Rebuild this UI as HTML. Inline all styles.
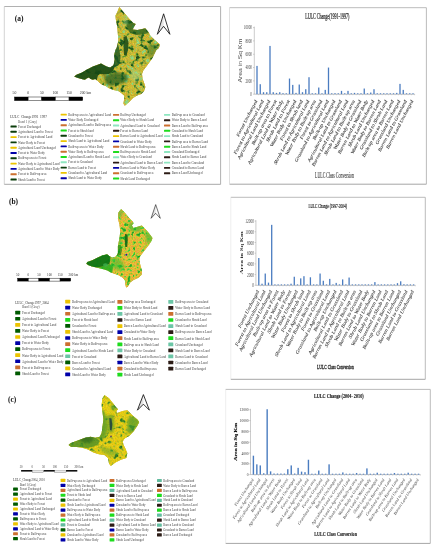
<!DOCTYPE html><html><head><meta charset="utf-8"><title>LULC Change 1991-2010</title><style>html,body{margin:0;padding:0;background:#fff}svg{display:block}</style></head><body>
<svg width="436" height="550" viewBox="0 0 436 550" font-family="'Liberation Serif', serif">
<rect width="436" height="550" fill="#fff"/>
<defs>
<filter id="texa" x="0" y="0" width="100%" height="100%" color-interpolation-filters="sRGB"><feTurbulence type="fractalNoise" baseFrequency="0.2" numOctaves="2" seed="3" result="t1"/><feColorMatrix in="t1" type="matrix" values="2.3 0 0 0 -0.6699999999999999 2.3 0 0 0 -0.6699999999999999 2.3 0 0 0 -0.6699999999999999 0 0 0 0 1" result="g1"/><feComponentTransfer in="g1" result="z"><feFuncR type="table" tableValues="0.137 0.314 0.549 0.737 0.808 0.824 0.761 0.647 0.569"/><feFuncG type="table" tableValues="0.353 0.529 0.647 0.714 0.725 0.714 0.729 0.776 0.831"/><feFuncB type="table" tableValues="0.118 0.176 0.216 0.216 0.196 0.196 0.235 0.353 0.490"/></feComponentTransfer><feTurbulence type="fractalNoise" baseFrequency="0.9" numOctaves="2" seed="14" result="t2"/><feColorMatrix in="t2" type="matrix" values="1 0 0 0 0 0 1 0 0 0 0 0 1 0 0 0 0 0 0 1" result="t2o"/><feComposite in="z" in2="t2o" operator="arithmetic" k1="0" k2="1" k3="0.3" k4="-0.15"/></filter>
<filter id="texb" x="0" y="0" width="100%" height="100%" color-interpolation-filters="sRGB"><feTurbulence type="fractalNoise" baseFrequency="0.22" numOctaves="2" seed="5" result="t1"/><feColorMatrix in="t1" type="matrix" values="2.0 0 0 0 -0.5 2.0 0 0 0 -0.5 2.0 0 0 0 -0.5 0 0 0 0 1" result="g1"/><feComponentTransfer in="g1" result="z"><feFuncR type="table" tableValues="0.157 0.275 0.627 0.882 0.925 0.910 0.871 0.627 0.275"/><feFuncG type="table" tableValues="0.647 0.745 0.804 0.753 0.714 0.675 0.745 0.843 0.784"/><feFuncB type="table" tableValues="0.157 0.196 0.216 0.188 0.216 0.235 0.196 0.235 0.235"/></feComponentTransfer><feTurbulence type="fractalNoise" baseFrequency="0.9" numOctaves="2" seed="16" result="t2"/><feColorMatrix in="t2" type="matrix" values="1 0 0 0 0 0 1 0 0 0 0 0 1 0 0 0 0 0 0 1" result="t2o"/><feComposite in="z" in2="t2o" operator="arithmetic" k1="0" k2="1" k3="0.3" k4="-0.15"/></filter>
<filter id="texc" x="0" y="0" width="100%" height="100%" color-interpolation-filters="sRGB"><feTurbulence type="fractalNoise" baseFrequency="0.2" numOctaves="2" seed="7" result="t1"/><feColorMatrix in="t1" type="matrix" values="2.0 0 0 0 -0.5 2.0 0 0 0 -0.5 2.0 0 0 0 -0.5 0 0 0 0 1" result="g1"/><feComponentTransfer in="g1" result="z"><feFuncR type="table" tableValues="0.196 0.353 0.667 0.863 0.894 0.902 0.882 0.804 0.627"/><feFuncG type="table" tableValues="0.471 0.608 0.725 0.784 0.800 0.804 0.792 0.765 0.706"/><feFuncB type="table" tableValues="0.137 0.157 0.137 0.086 0.078 0.086 0.098 0.118 0.157"/></feComponentTransfer><feTurbulence type="fractalNoise" baseFrequency="0.9" numOctaves="2" seed="18" result="t2"/><feColorMatrix in="t2" type="matrix" values="1 0 0 0 0 0 1 0 0 0 0 0 1 0 0 0 0 0 0 1" result="t2o"/><feComposite in="z" in2="t2o" operator="arithmetic" k1="0" k2="1" k3="0.22" k4="-0.11"/></filter>
<filter id="blur1" x="-20%" y="-20%" width="140%" height="140%"><feGaussianBlur stdDeviation="1.1"/></filter><filter id="blur0" x="-20%" y="-20%" width="140%" height="140%"><feGaussianBlur stdDeviation="0.5"/></filter>
</defs>
<line x1="4.3" y1="6.5" x2="220.6" y2="6.5" stroke="#a8a8a8" stroke-width="0.9"/>
<line x1="4.3" y1="6.5" x2="4.3" y2="184.4" stroke="#c8c8c8" stroke-width="0.8"/>
<line x1="220.6" y1="6.5" x2="220.6" y2="184.4" stroke="#a8a8a8" stroke-width="0.9"/>
<line x1="4.3" y1="184.3" x2="220.6" y2="184.3" stroke="#a8a8a8" stroke-width="1.0"/>
<text x="14.70" y="21.20" font-size="7.4" fill="#111" textLength="8.74" lengthAdjust="spacingAndGlyphs" font-weight="bold">(a)</text>
<clipPath id="clipa"><polygon points="119.3,7.1 123.1,11.6 126.7,15.7 129.7,19.3 133.3,22.9 135.7,24.1 133.9,27.1 132.7,29.5 137.4,30.1 142.2,28.9 145.2,28.3 148.2,31.8 150.6,36 154.2,39.6 157.7,42.6 159.9,44.4 158.9,48 156.4,50 152.3,58.3 147.5,65.1 143.3,70.6 142,74 142.6,78.9 144.7,84.4 145.4,87.1 144,91.3 141.3,94 137.1,95.4 133,98.1 128.9,102.3 124.8,105.7 123.4,103.6 124.1,99.5 124.1,95.4 120.6,92.6 118.2,91.1 113.6,90 109,88.3 105.6,86 102.1,84.8 99.8,83.1 97.5,80.8 95.2,79.1 92.9,79.7 90.6,79.1 88.9,77.4 86.6,78.5 84.9,79.7 81.5,79.1 78,77.9 74.6,76.8 74.4,76.2 76.9,74.5 80.3,73.3 82.6,72.2 86.1,69.9 89.5,68.2 92.9,66.5 96.4,65.3 101,63.6 103.3,64.7 106.7,66.5 110.1,67.6 113.6,65.3 114.7,59.6 114.2,55 115.4,50 116.6,48 118.4,40.8 117.8,33.6 117.2,26.5 116,20.5 115.4,15.7 117.2,12.2"/></clipPath>
<g clip-path="url(#clipa)">
<rect x="73.4" y="6.1" width="87.5" height="100.60000000000001" fill="#c0b040"/>
<rect x="73.4" y="6.1" width="87.5" height="100.60000000000001" filter="url(#texa)"/>
<polygon points="60,55 114,55 115,66 113,71 109,74 104,74.5 100,74 98,75.5 97,79 97,90 60,90" fill="#174a19" opacity="0.9" filter="url(#blur0)"/>
<polygon points="104,76 110,74 116,72 121,73 127,74 128,80 124,83 118,84 112,86 106,84" fill="#1d5a20" opacity="0.7" filter="url(#blur1)"/>
<polygon points="123.5,37 126.5,36 128.5,42 128,50 126.5,56 124,55 123.5,47" fill="#144a18" opacity="0.85" filter="url(#blur0)"/>
<polygon points="108,42 117.5,42 119.5,50 120.5,58 119,65 113,68 108,62" fill="#1c5420" opacity="0.8" filter="url(#blur0)"/>
<polygon points="126,20 134,22 140,26 134,29 140,28 147,27 149,33 142,34.5 136,35 130,33 127,28" fill="#1a5a1e" opacity="0.72" filter="url(#blur0)"/>
<polygon points="149,44 156,44 158,48 154,55 149,58 147,52" fill="#2f7028" opacity="0.5" filter="url(#blur1)"/>
<polygon points="131,71 138,70 141,74 140,80 133,81 130,76" fill="#9ed890" opacity="0.45" filter="url(#blur1)"/>
<polygon points="123,19 127,18 128,24 124,25" fill="#a0d890" opacity="0.5" filter="url(#blur1)"/>
</g>
<path d="M163.6,13.8 L157.29999999999998,34.3 L163.6,26.3 Z" fill="#e4e4e4"/>
<path d="M163.6,13.8 L157.29999999999998,34.3 L163.6,26.3 L169.9,34.3 Z" fill="none" stroke="#111" stroke-width="0.85" stroke-linejoin="miter" stroke-miterlimit="10"/>
<rect x="14.50" y="97" width="13.64" height="3.6" fill="#000" stroke="#000" stroke-width="0.45"/>
<rect x="28.14" y="97" width="13.64" height="3.6" fill="#fff" stroke="#000" stroke-width="0.45"/>
<rect x="41.78" y="97" width="13.64" height="3.6" fill="#000" stroke="#000" stroke-width="0.45"/>
<rect x="55.42" y="97" width="13.64" height="3.6" fill="#fff" stroke="#000" stroke-width="0.45"/>
<rect x="69.06" y="97" width="13.64" height="3.6" fill="#000" stroke="#000" stroke-width="0.45"/>
<text x="14.50" y="94.30" font-size="4.3" fill="#333" textLength="3.80" lengthAdjust="spacingAndGlyphs" text-anchor="middle">50</text>
<text x="28.14" y="94.30" font-size="4.3" fill="#333" textLength="1.90" lengthAdjust="spacingAndGlyphs" text-anchor="middle">0</text>
<text x="41.78" y="94.30" font-size="4.3" fill="#333" textLength="3.80" lengthAdjust="spacingAndGlyphs" text-anchor="middle">50</text>
<text x="55.42" y="94.30" font-size="4.3" fill="#333" textLength="5.70" lengthAdjust="spacingAndGlyphs" text-anchor="middle">100</text>
<text x="69.06" y="94.30" font-size="4.3" fill="#333" textLength="5.70" lengthAdjust="spacingAndGlyphs" text-anchor="middle">150</text>
<text x="79.80" y="94.30" font-size="4.3" fill="#333" textLength="11.51" lengthAdjust="spacingAndGlyphs">200 km</text>
<text x="10.20" y="117.60" font-size="3.9" fill="#333" textLength="36.80" lengthAdjust="spacingAndGlyphs">LULC_Change1991_1997</text>
<text x="18.10" y="122.50" font-size="3.588" fill="#555" textLength="18.93" lengthAdjust="spacingAndGlyphs">Band 1 (Gray)</text>
<rect x="10.50" y="125.55" width="6.2" height="1.9" rx="0.5" fill="#0b3d0b"/>
<text x="18.10" y="127.69" font-size="3.5" fill="#444" textLength="22.93" lengthAdjust="spacingAndGlyphs">Forest Unchanged</text>
<rect x="10.50" y="130.85" width="6.2" height="1.9" rx="0.5" fill="#0b3d0b"/>
<text x="18.10" y="132.99" font-size="3.5" fill="#444" textLength="34.44" lengthAdjust="spacingAndGlyphs">Agricultural Land to Forest</text>
<rect x="10.50" y="136.15" width="6.2" height="1.9" rx="0.5" fill="#ecc400"/>
<text x="18.10" y="138.29" font-size="3.5" fill="#444" textLength="34.27" lengthAdjust="spacingAndGlyphs">Forest to Agricultural Land</text>
<rect x="10.50" y="141.45" width="6.2" height="1.9" rx="0.5" fill="#0b3d0b"/>
<text x="18.10" y="143.59" font-size="3.5" fill="#444" textLength="26.87" lengthAdjust="spacingAndGlyphs">Water Body to Forest</text>
<rect x="10.50" y="146.75" width="6.2" height="1.9" rx="0.5" fill="#ecc400"/>
<text x="18.10" y="148.89" font-size="3.5" fill="#444" textLength="37.67" lengthAdjust="spacingAndGlyphs">Agricultural Land Unchanged</text>
<rect x="10.50" y="152.05" width="6.2" height="1.9" rx="0.5" fill="#0000a8"/>
<text x="18.10" y="154.19" font-size="3.5" fill="#444" textLength="26.81" lengthAdjust="spacingAndGlyphs">Forest to Water Body</text>
<rect x="10.50" y="157.35" width="6.2" height="1.9" rx="0.5" fill="#0b3d0b"/>
<text x="18.10" y="159.49" font-size="3.5" fill="#444" textLength="28.34" lengthAdjust="spacingAndGlyphs">Built-up area to Forest</text>
<rect x="10.50" y="162.65" width="6.2" height="1.9" rx="0.5" fill="#ecc400"/>
<text x="18.10" y="164.79" font-size="3.5" fill="#444" textLength="41.43" lengthAdjust="spacingAndGlyphs">Water Body to Agricultural Land</text>
<rect x="10.50" y="167.95" width="6.2" height="1.9" rx="0.5" fill="#0000a8"/>
<text x="18.10" y="170.09" font-size="3.5" fill="#444" textLength="41.55" lengthAdjust="spacingAndGlyphs">Agricultural Land to Water Body</text>
<rect x="10.50" y="173.25" width="6.2" height="1.9" rx="0.5" fill="#cc7030"/>
<text x="18.10" y="175.39" font-size="3.5" fill="#444" textLength="28.34" lengthAdjust="spacingAndGlyphs">Forest to Built-up area</text>
<rect x="10.50" y="178.55" width="6.2" height="1.9" rx="0.5" fill="#0b3d0b"/>
<text x="18.10" y="180.69" font-size="3.5" fill="#444" textLength="26.60" lengthAdjust="spacingAndGlyphs">Shrub Land to Forest</text>
<rect x="60.60" y="113.65" width="6.2" height="1.9" rx="0.5" fill="#ecc400"/>
<text x="68.20" y="115.79" font-size="3.5" fill="#444" textLength="42.90" lengthAdjust="spacingAndGlyphs">Built-up area to Agricultural Land</text>
<rect x="60.60" y="118.95" width="6.2" height="1.9" rx="0.5" fill="#0000a8"/>
<text x="68.20" y="121.09" font-size="3.5" fill="#444" textLength="30.09" lengthAdjust="spacingAndGlyphs">Water Body Unchanged</text>
<rect x="60.60" y="124.25" width="6.2" height="1.9" rx="0.5" fill="#cc7030"/>
<text x="68.20" y="126.39" font-size="3.5" fill="#444" textLength="43.07" lengthAdjust="spacingAndGlyphs">Agricultural Land to Built-up area</text>
<rect x="60.60" y="129.55" width="6.2" height="1.9" rx="0.5" fill="#1edc1e"/>
<text x="68.20" y="131.69" font-size="3.5" fill="#444" textLength="25.56" lengthAdjust="spacingAndGlyphs">Forest to Shrub land</text>
<rect x="60.60" y="134.85" width="6.2" height="1.9" rx="0.5" fill="#0b3d0b"/>
<text x="68.20" y="136.99" font-size="3.5" fill="#444" textLength="24.42" lengthAdjust="spacingAndGlyphs">Grassland to Forest</text>
<rect x="60.60" y="140.15" width="6.2" height="1.9" rx="0.5" fill="#ecc400"/>
<text x="68.20" y="142.29" font-size="3.5" fill="#444" textLength="41.16" lengthAdjust="spacingAndGlyphs">Shrub Land to Agricultural Land</text>
<rect x="60.60" y="145.45" width="6.2" height="1.9" rx="0.5" fill="#0000a8"/>
<text x="68.20" y="147.59" font-size="3.5" fill="#444" textLength="35.44" lengthAdjust="spacingAndGlyphs">Built-up area to Water Body</text>
<rect x="60.60" y="150.75" width="6.2" height="1.9" rx="0.5" fill="#cc7030"/>
<text x="68.20" y="152.89" font-size="3.5" fill="#444" textLength="35.50" lengthAdjust="spacingAndGlyphs">Water Body to Built-up area</text>
<rect x="60.60" y="156.05" width="6.2" height="1.9" rx="0.5" fill="#1edc1e"/>
<text x="68.20" y="158.19" font-size="3.5" fill="#444" textLength="41.33" lengthAdjust="spacingAndGlyphs">Agricultural Land to Shrub Land</text>
<rect x="60.60" y="161.35" width="6.2" height="1.9" rx="0.5" fill="#8ee6c0"/>
<text x="68.20" y="163.49" font-size="3.5" fill="#444" textLength="24.42" lengthAdjust="spacingAndGlyphs">Forest to Grassland</text>
<rect x="60.60" y="166.65" width="6.2" height="1.9" rx="0.5" fill="#0b3d0b"/>
<text x="68.20" y="168.79" font-size="3.5" fill="#444" textLength="27.64" lengthAdjust="spacingAndGlyphs">Barren Land to Forest</text>
<rect x="60.60" y="171.95" width="6.2" height="1.9" rx="0.5" fill="#ecc400"/>
<text x="68.20" y="174.09" font-size="3.5" fill="#444" textLength="38.98" lengthAdjust="spacingAndGlyphs">Grassland to Agricultural Land</text>
<rect x="60.60" y="177.25" width="6.2" height="1.9" rx="0.5" fill="#0000a8"/>
<text x="68.20" y="179.39" font-size="3.5" fill="#444" textLength="33.70" lengthAdjust="spacingAndGlyphs">Shrub Land to Water Body</text>
<rect x="113.00" y="113.95" width="6.2" height="1.9" rx="0.5" fill="#cc7030"/>
<text x="120.30" y="116.09" font-size="3.5" fill="#444" textLength="25.55" lengthAdjust="spacingAndGlyphs">Built-up Unchanged</text>
<rect x="113.00" y="119.25" width="6.2" height="1.9" rx="0.5" fill="#1edc1e"/>
<text x="120.30" y="121.39" font-size="3.5" fill="#444" textLength="33.76" lengthAdjust="spacingAndGlyphs">Water Body to Shrub Land</text>
<rect x="113.00" y="124.55" width="6.2" height="1.9" rx="0.5" fill="#8ee6c0"/>
<text x="120.30" y="126.69" font-size="3.5" fill="#444" textLength="39.15" lengthAdjust="spacingAndGlyphs">Agricultural Land to Grassland</text>
<rect x="113.00" y="129.85" width="6.2" height="1.9" rx="0.5" fill="#2c1c16"/>
<text x="120.30" y="131.99" font-size="3.5" fill="#444" textLength="27.64" lengthAdjust="spacingAndGlyphs">Forest to Barren Land</text>
<rect x="113.00" y="135.15" width="6.2" height="1.9" rx="0.5" fill="#ecc400"/>
<text x="120.30" y="137.29" font-size="3.5" fill="#444" textLength="42.20" lengthAdjust="spacingAndGlyphs">Barren Land to Agricultural Land</text>
<rect x="113.00" y="140.45" width="6.2" height="1.9" rx="0.5" fill="#0000a8"/>
<text x="120.30" y="142.59" font-size="3.5" fill="#444" textLength="31.52" lengthAdjust="spacingAndGlyphs">Grassland to Water Body</text>
<rect x="113.00" y="145.75" width="6.2" height="1.9" rx="0.5" fill="#cc7030"/>
<text x="120.30" y="147.89" font-size="3.5" fill="#444" textLength="35.23" lengthAdjust="spacingAndGlyphs">Shrub Land to Built-up area</text>
<rect x="113.00" y="151.05" width="6.2" height="1.9" rx="0.5" fill="#1edc1e"/>
<text x="120.30" y="153.19" font-size="3.5" fill="#444" textLength="35.23" lengthAdjust="spacingAndGlyphs">Built-up area to Shrub Land</text>
<rect x="113.00" y="156.35" width="6.2" height="1.9" rx="0.5" fill="#8ee6c0"/>
<text x="120.30" y="158.49" font-size="3.5" fill="#444" textLength="31.58" lengthAdjust="spacingAndGlyphs">Water Body to Grassland</text>
<rect x="113.00" y="161.65" width="6.2" height="1.9" rx="0.5" fill="#2c1c16"/>
<text x="120.30" y="163.79" font-size="3.5" fill="#444" textLength="42.37" lengthAdjust="spacingAndGlyphs">Agricultural Land to Barren Land</text>
<rect x="113.00" y="166.95" width="6.2" height="1.9" rx="0.5" fill="#0000a8"/>
<text x="120.30" y="169.09" font-size="3.5" fill="#444" textLength="34.74" lengthAdjust="spacingAndGlyphs">Barren Land to Water Body</text>
<rect x="113.00" y="172.25" width="6.2" height="1.9" rx="0.5" fill="#cc7030"/>
<text x="120.30" y="174.39" font-size="3.5" fill="#444" textLength="33.05" lengthAdjust="spacingAndGlyphs">Grassland to Built-up area</text>
<rect x="113.00" y="177.55" width="6.2" height="1.9" rx="0.5" fill="#1edc1e"/>
<text x="120.30" y="179.69" font-size="3.5" fill="#444" textLength="29.82" lengthAdjust="spacingAndGlyphs">Shrub Land Unchanged</text>
<rect x="164.00" y="113.95" width="6.2" height="1.9" rx="0.5" fill="#8ee6c0"/>
<text x="171.70" y="116.09" font-size="3.5" fill="#444" textLength="33.05" lengthAdjust="spacingAndGlyphs">Built-up area to Grassland</text>
<rect x="164.00" y="119.25" width="6.2" height="1.9" rx="0.5" fill="#2c1c16"/>
<text x="171.70" y="121.39" font-size="3.5" fill="#444" textLength="34.80" lengthAdjust="spacingAndGlyphs">Water Body to Barren Land</text>
<rect x="164.00" y="124.55" width="6.2" height="1.9" rx="0.5" fill="#cc7030"/>
<text x="171.70" y="126.69" font-size="3.5" fill="#444" textLength="36.27" lengthAdjust="spacingAndGlyphs">Barren Land to Built-up area</text>
<rect x="164.00" y="129.85" width="6.2" height="1.9" rx="0.5" fill="#1edc1e"/>
<text x="171.70" y="131.99" font-size="3.5" fill="#444" textLength="31.31" lengthAdjust="spacingAndGlyphs">Grassland to Shrub Land</text>
<rect x="164.00" y="135.15" width="6.2" height="1.9" rx="0.5" fill="#8ee6c0"/>
<text x="171.70" y="137.29" font-size="3.5" fill="#444" textLength="31.31" lengthAdjust="spacingAndGlyphs">Shrub Land to Grassland</text>
<rect x="164.00" y="140.45" width="6.2" height="1.9" rx="0.5" fill="#2c1c16"/>
<text x="171.70" y="142.59" font-size="3.5" fill="#444" textLength="36.27" lengthAdjust="spacingAndGlyphs">Built-up area to Barren Land</text>
<rect x="164.00" y="145.75" width="6.2" height="1.9" rx="0.5" fill="#1edc1e"/>
<text x="171.70" y="147.89" font-size="3.5" fill="#444" textLength="34.53" lengthAdjust="spacingAndGlyphs">Barren Land to Shrub Land</text>
<rect x="164.00" y="151.05" width="6.2" height="1.9" rx="0.5" fill="#8ee6c0"/>
<text x="171.70" y="153.19" font-size="3.5" fill="#444" textLength="27.64" lengthAdjust="spacingAndGlyphs">Grassland Unchanged</text>
<rect x="164.00" y="156.35" width="6.2" height="1.9" rx="0.5" fill="#2c1c16"/>
<text x="171.70" y="158.49" font-size="3.5" fill="#444" textLength="34.53" lengthAdjust="spacingAndGlyphs">Shrub Land to Barren Land</text>
<rect x="164.00" y="161.65" width="6.2" height="1.9" rx="0.5" fill="#8ee6c0"/>
<text x="171.70" y="163.79" font-size="3.5" fill="#444" textLength="32.35" lengthAdjust="spacingAndGlyphs">Barren Land to Grassland</text>
<rect x="164.00" y="166.95" width="6.2" height="1.9" rx="0.5" fill="#2c1c16"/>
<text x="171.70" y="169.09" font-size="3.5" fill="#444" textLength="32.35" lengthAdjust="spacingAndGlyphs">Grassland to Barren Land</text>
<rect x="164.00" y="172.25" width="6.2" height="1.9" rx="0.5" fill="#2c1c16"/>
<text x="171.70" y="174.39" font-size="3.5" fill="#444" textLength="30.86" lengthAdjust="spacingAndGlyphs">Barren Land Unchanged</text>
<line x1="229.5" y1="7.7" x2="426.4" y2="7.7" stroke="#b4b4b4" stroke-width="0.9"/>
<line x1="426.4" y1="7.7" x2="426.4" y2="184.2" stroke="#b4b4b4" stroke-width="0.9"/>
<line x1="229.5" y1="184.2" x2="426.4" y2="184.2" stroke="#a6a6a6" stroke-width="1.0"/>
<line x1="229.5" y1="7.7" x2="229.5" y2="184.2" stroke="#ddd" stroke-width="0.9"/>
<text x="305.20" y="19.30" font-size="7.8" fill="#111" stroke="#222" stroke-width="0.2" textLength="44.20" lengthAdjust="spacingAndGlyphs">LULC Change(1991-1997)</text>
<line x1="254.3" y1="26.6" x2="254.3" y2="94.2" stroke="#999" stroke-width="0.5"/>
<line x1="253.0" y1="94.20" x2="254.3" y2="94.20" stroke="#999" stroke-width="0.45"/>
<text x="252.00" y="95.98" font-size="5.4" fill="#4a4a4a" textLength="1.65" lengthAdjust="spacingAndGlyphs" text-anchor="end">0</text>
<line x1="253.0" y1="80.88" x2="254.3" y2="80.88" stroke="#999" stroke-width="0.45"/>
<text x="252.00" y="82.66" font-size="5.4" fill="#4a4a4a" textLength="6.60" lengthAdjust="spacingAndGlyphs" text-anchor="end">2000</text>
<line x1="253.0" y1="67.56" x2="254.3" y2="67.56" stroke="#999" stroke-width="0.45"/>
<text x="252.00" y="69.34" font-size="5.4" fill="#4a4a4a" textLength="6.60" lengthAdjust="spacingAndGlyphs" text-anchor="end">4000</text>
<line x1="253.0" y1="54.24" x2="254.3" y2="54.24" stroke="#999" stroke-width="0.45"/>
<text x="252.00" y="56.02" font-size="5.4" fill="#4a4a4a" textLength="6.60" lengthAdjust="spacingAndGlyphs" text-anchor="end">6000</text>
<line x1="253.0" y1="40.92" x2="254.3" y2="40.92" stroke="#999" stroke-width="0.45"/>
<text x="252.00" y="42.70" font-size="5.4" fill="#4a4a4a" textLength="6.60" lengthAdjust="spacingAndGlyphs" text-anchor="end">8000</text>
<line x1="253.0" y1="27.60" x2="254.3" y2="27.60" stroke="#999" stroke-width="0.45"/>
<text x="252.00" y="29.38" font-size="5.4" fill="#4a4a4a" textLength="8.25" lengthAdjust="spacingAndGlyphs" text-anchor="end">10000</text>
<line x1="254.3" y1="94.2" x2="414.79" y2="94.2" stroke="#999" stroke-width="0.55"/>
<line x1="258.62" y1="94.2" x2="258.62" y2="95.2" stroke="#999" stroke-width="0.45"/>
<rect x="256.35" y="65.90" width="1.3" height="28.30" fill="#4a7cc0"/>
<line x1="261.88" y1="94.2" x2="261.88" y2="95.2" stroke="#999" stroke-width="0.45"/>
<rect x="259.60" y="84.21" width="1.3" height="9.99" fill="#4a7cc0"/>
<line x1="265.12" y1="94.2" x2="265.12" y2="95.2" stroke="#999" stroke-width="0.45"/>
<rect x="262.85" y="92.20" width="1.3" height="2.00" fill="#4a7cc0"/>
<line x1="268.38" y1="94.2" x2="268.38" y2="95.2" stroke="#999" stroke-width="0.45"/>
<rect x="266.10" y="92.20" width="1.3" height="2.00" fill="#4a7cc0"/>
<line x1="271.62" y1="94.2" x2="271.62" y2="95.2" stroke="#999" stroke-width="0.45"/>
<rect x="269.35" y="45.92" width="1.3" height="48.28" fill="#4a7cc0"/>
<line x1="274.88" y1="94.2" x2="274.88" y2="95.2" stroke="#999" stroke-width="0.45"/>
<rect x="272.60" y="92.20" width="1.3" height="2.00" fill="#4a7cc0"/>
<line x1="278.12" y1="94.2" x2="278.12" y2="95.2" stroke="#999" stroke-width="0.45"/>
<rect x="275.85" y="92.87" width="1.3" height="1.33" fill="#4a7cc0"/>
<line x1="281.38" y1="94.2" x2="281.38" y2="95.2" stroke="#999" stroke-width="0.45"/>
<rect x="279.10" y="92.20" width="1.3" height="2.00" fill="#4a7cc0"/>
<line x1="284.62" y1="94.2" x2="284.62" y2="95.2" stroke="#999" stroke-width="0.45"/>
<rect x="282.35" y="93.20" width="1.3" height="1.00" fill="#4a7cc0"/>
<line x1="287.88" y1="94.2" x2="287.88" y2="95.2" stroke="#999" stroke-width="0.45"/>
<rect x="285.60" y="93.30" width="1.3" height="0.90" fill="#4a7cc0"/>
<line x1="291.12" y1="94.2" x2="291.12" y2="95.2" stroke="#999" stroke-width="0.45"/>
<rect x="288.85" y="78.55" width="1.3" height="15.65" fill="#4a7cc0"/>
<line x1="294.38" y1="94.2" x2="294.38" y2="95.2" stroke="#999" stroke-width="0.45"/>
<rect x="292.10" y="84.88" width="1.3" height="9.32" fill="#4a7cc0"/>
<line x1="297.62" y1="94.2" x2="297.62" y2="95.2" stroke="#999" stroke-width="0.45"/>
<rect x="295.35" y="92.87" width="1.3" height="1.33" fill="#4a7cc0"/>
<line x1="300.88" y1="94.2" x2="300.88" y2="95.2" stroke="#999" stroke-width="0.45"/>
<rect x="298.60" y="84.54" width="1.3" height="9.66" fill="#4a7cc0"/>
<line x1="304.12" y1="94.2" x2="304.12" y2="95.2" stroke="#999" stroke-width="0.45"/>
<rect x="301.85" y="92.20" width="1.3" height="2.00" fill="#4a7cc0"/>
<line x1="307.38" y1="94.2" x2="307.38" y2="95.2" stroke="#999" stroke-width="0.45"/>
<rect x="305.10" y="89.20" width="1.3" height="4.99" fill="#4a7cc0"/>
<line x1="310.62" y1="94.2" x2="310.62" y2="95.2" stroke="#999" stroke-width="0.45"/>
<rect x="308.35" y="77.22" width="1.3" height="16.98" fill="#4a7cc0"/>
<line x1="313.88" y1="94.2" x2="313.88" y2="95.2" stroke="#999" stroke-width="0.45"/>
<rect x="311.60" y="93.30" width="1.3" height="0.90" fill="#4a7cc0"/>
<line x1="317.12" y1="94.2" x2="317.12" y2="95.2" stroke="#999" stroke-width="0.45"/>
<rect x="314.85" y="93.30" width="1.3" height="0.90" fill="#4a7cc0"/>
<line x1="320.38" y1="94.2" x2="320.38" y2="95.2" stroke="#999" stroke-width="0.45"/>
<rect x="318.10" y="87.54" width="1.3" height="6.66" fill="#4a7cc0"/>
<line x1="323.62" y1="94.2" x2="323.62" y2="95.2" stroke="#999" stroke-width="0.45"/>
<rect x="321.35" y="93.30" width="1.3" height="0.90" fill="#4a7cc0"/>
<line x1="326.88" y1="94.2" x2="326.88" y2="95.2" stroke="#999" stroke-width="0.45"/>
<rect x="324.60" y="89.87" width="1.3" height="4.33" fill="#4a7cc0"/>
<line x1="330.12" y1="94.2" x2="330.12" y2="95.2" stroke="#999" stroke-width="0.45"/>
<rect x="327.85" y="67.56" width="1.3" height="26.64" fill="#4a7cc0"/>
<line x1="333.38" y1="94.2" x2="333.38" y2="95.2" stroke="#999" stroke-width="0.45"/>
<rect x="331.10" y="93.30" width="1.3" height="0.90" fill="#4a7cc0"/>
<line x1="336.62" y1="94.2" x2="336.62" y2="95.2" stroke="#999" stroke-width="0.45"/>
<rect x="334.35" y="93.20" width="1.3" height="1.00" fill="#4a7cc0"/>
<line x1="339.88" y1="94.2" x2="339.88" y2="95.2" stroke="#999" stroke-width="0.45"/>
<rect x="337.60" y="93.30" width="1.3" height="0.90" fill="#4a7cc0"/>
<line x1="343.12" y1="94.2" x2="343.12" y2="95.2" stroke="#999" stroke-width="0.45"/>
<rect x="340.85" y="90.87" width="1.3" height="3.33" fill="#4a7cc0"/>
<line x1="346.38" y1="94.2" x2="346.38" y2="95.2" stroke="#999" stroke-width="0.45"/>
<rect x="344.10" y="93.30" width="1.3" height="0.90" fill="#4a7cc0"/>
<line x1="349.62" y1="94.2" x2="349.62" y2="95.2" stroke="#999" stroke-width="0.45"/>
<rect x="347.35" y="90.87" width="1.3" height="3.33" fill="#4a7cc0"/>
<line x1="352.88" y1="94.2" x2="352.88" y2="95.2" stroke="#999" stroke-width="0.45"/>
<rect x="350.60" y="93.30" width="1.3" height="0.90" fill="#4a7cc0"/>
<line x1="356.12" y1="94.2" x2="356.12" y2="95.2" stroke="#999" stroke-width="0.45"/>
<rect x="353.85" y="92.87" width="1.3" height="1.33" fill="#4a7cc0"/>
<line x1="359.38" y1="94.2" x2="359.38" y2="95.2" stroke="#999" stroke-width="0.45"/>
<rect x="357.10" y="93.30" width="1.3" height="0.90" fill="#4a7cc0"/>
<line x1="362.62" y1="94.2" x2="362.62" y2="95.2" stroke="#999" stroke-width="0.45"/>
<rect x="360.35" y="93.30" width="1.3" height="0.90" fill="#4a7cc0"/>
<line x1="365.88" y1="94.2" x2="365.88" y2="95.2" stroke="#999" stroke-width="0.45"/>
<rect x="363.60" y="88.54" width="1.3" height="5.66" fill="#4a7cc0"/>
<line x1="369.12" y1="94.2" x2="369.12" y2="95.2" stroke="#999" stroke-width="0.45"/>
<rect x="366.85" y="93.30" width="1.3" height="0.90" fill="#4a7cc0"/>
<line x1="372.38" y1="94.2" x2="372.38" y2="95.2" stroke="#999" stroke-width="0.45"/>
<rect x="370.10" y="92.53" width="1.3" height="1.67" fill="#4a7cc0"/>
<line x1="375.62" y1="94.2" x2="375.62" y2="95.2" stroke="#999" stroke-width="0.45"/>
<rect x="373.35" y="89.20" width="1.3" height="4.99" fill="#4a7cc0"/>
<line x1="378.88" y1="94.2" x2="378.88" y2="95.2" stroke="#999" stroke-width="0.45"/>
<rect x="376.60" y="93.30" width="1.3" height="0.90" fill="#4a7cc0"/>
<line x1="382.12" y1="94.2" x2="382.12" y2="95.2" stroke="#999" stroke-width="0.45"/>
<rect x="379.85" y="93.30" width="1.3" height="0.90" fill="#4a7cc0"/>
<line x1="385.38" y1="94.2" x2="385.38" y2="95.2" stroke="#999" stroke-width="0.45"/>
<rect x="383.10" y="93.30" width="1.3" height="0.90" fill="#4a7cc0"/>
<line x1="388.62" y1="94.2" x2="388.62" y2="95.2" stroke="#999" stroke-width="0.45"/>
<rect x="386.35" y="93.30" width="1.3" height="0.90" fill="#4a7cc0"/>
<line x1="391.88" y1="94.2" x2="391.88" y2="95.2" stroke="#999" stroke-width="0.45"/>
<rect x="389.60" y="93.30" width="1.3" height="0.90" fill="#4a7cc0"/>
<line x1="395.12" y1="94.2" x2="395.12" y2="95.2" stroke="#999" stroke-width="0.45"/>
<rect x="392.85" y="93.30" width="1.3" height="0.90" fill="#4a7cc0"/>
<line x1="398.38" y1="94.2" x2="398.38" y2="95.2" stroke="#999" stroke-width="0.45"/>
<rect x="396.10" y="92.87" width="1.3" height="1.33" fill="#4a7cc0"/>
<line x1="401.62" y1="94.2" x2="401.62" y2="95.2" stroke="#999" stroke-width="0.45"/>
<rect x="399.35" y="83.88" width="1.3" height="10.32" fill="#4a7cc0"/>
<line x1="404.88" y1="94.2" x2="404.88" y2="95.2" stroke="#999" stroke-width="0.45"/>
<rect x="402.60" y="89.87" width="1.3" height="4.33" fill="#4a7cc0"/>
<line x1="408.12" y1="94.2" x2="408.12" y2="95.2" stroke="#999" stroke-width="0.45"/>
<rect x="405.85" y="93.30" width="1.3" height="0.90" fill="#4a7cc0"/>
<line x1="411.38" y1="94.2" x2="411.38" y2="95.2" stroke="#999" stroke-width="0.45"/>
<rect x="409.10" y="93.30" width="1.3" height="0.90" fill="#4a7cc0"/>
<line x1="414.62" y1="94.2" x2="414.62" y2="95.2" stroke="#999" stroke-width="0.45"/>
<rect x="412.35" y="93.30" width="1.3" height="0.90" fill="#4a7cc0"/>
<text transform="translate(257.50,101.00) rotate(-62.5)" font-size="4.5" fill="#2e2e2e" stroke="#444" stroke-width="0.08" textLength="40.51" lengthAdjust="spacingAndGlyphs" text-anchor="end" font-style="italic">Forest Unchanged</text>
<text transform="translate(264.00,101.00) rotate(-62.5)" font-size="4.5" fill="#2e2e2e" stroke="#444" stroke-width="0.08" textLength="60.41" lengthAdjust="spacingAndGlyphs" text-anchor="end" font-style="italic">Forest to Agricultural Land</text>
<text transform="translate(270.50,101.00) rotate(-62.5)" font-size="4.5" fill="#2e2e2e" stroke="#444" stroke-width="0.08" textLength="66.00" lengthAdjust="spacingAndGlyphs" text-anchor="end" font-style="italic">Agricultural Land Unchanged</text>
<text transform="translate(277.00,101.00) rotate(-62.5)" font-size="4.5" fill="#2e2e2e" stroke="#444" stroke-width="0.08" textLength="50.00" lengthAdjust="spacingAndGlyphs" text-anchor="end" font-style="italic">Built-up area to Forest</text>
<text transform="translate(283.50,101.00) rotate(-62.5)" font-size="4.5" fill="#2e2e2e" stroke="#444" stroke-width="0.08" textLength="71.86" lengthAdjust="spacingAndGlyphs" text-anchor="end" font-style="italic">Agricultural Land to Water Body</text>
<text transform="translate(290.00,101.00) rotate(-62.5)" font-size="4.5" fill="#2e2e2e" stroke="#444" stroke-width="0.08" textLength="46.58" lengthAdjust="spacingAndGlyphs" text-anchor="end" font-style="italic">Shrub Land to Forest</text>
<text transform="translate(296.50,101.00) rotate(-62.5)" font-size="4.5" fill="#2e2e2e" stroke="#444" stroke-width="0.08" textLength="51.87" lengthAdjust="spacingAndGlyphs" text-anchor="end" font-style="italic">Water Body Unchanged</text>
<text transform="translate(303.00,101.00) rotate(-62.5)" font-size="4.5" fill="#2e2e2e" stroke="#444" stroke-width="0.08" textLength="45.06" lengthAdjust="spacingAndGlyphs" text-anchor="end" font-style="italic">Forest to Shrub land</text>
<text transform="translate(309.50,101.00) rotate(-62.5)" font-size="4.5" fill="#2e2e2e" stroke="#444" stroke-width="0.08" textLength="71.97" lengthAdjust="spacingAndGlyphs" text-anchor="end" font-style="italic">Shrub Land to Agricultural Land</text>
<text transform="translate(316.00,101.00) rotate(-62.5)" font-size="4.5" fill="#2e2e2e" stroke="#444" stroke-width="0.08" textLength="61.36" lengthAdjust="spacingAndGlyphs" text-anchor="end" font-style="italic">Water Body to Built-up area</text>
<text transform="translate(322.50,101.00) rotate(-62.5)" font-size="4.5" fill="#2e2e2e" stroke="#444" stroke-width="0.08" textLength="43.71" lengthAdjust="spacingAndGlyphs" text-anchor="end" font-style="italic">Forest to Grassland</text>
<text transform="translate(329.00,101.00) rotate(-62.5)" font-size="4.5" fill="#2e2e2e" stroke="#444" stroke-width="0.08" textLength="69.09" lengthAdjust="spacingAndGlyphs" text-anchor="end" font-style="italic">Grassland to Agricultural Land</text>
<text transform="translate(335.50,101.00) rotate(-62.5)" font-size="4.5" fill="#2e2e2e" stroke="#444" stroke-width="0.08" textLength="44.35" lengthAdjust="spacingAndGlyphs" text-anchor="end" font-style="italic">Built-up Unchanged</text>
<text transform="translate(342.00,101.00) rotate(-62.5)" font-size="4.5" fill="#2e2e2e" stroke="#444" stroke-width="0.08" textLength="69.19" lengthAdjust="spacingAndGlyphs" text-anchor="end" font-style="italic">Agricultural Land to Grassland</text>
<text transform="translate(348.50,101.00) rotate(-62.5)" font-size="4.5" fill="#2e2e2e" stroke="#444" stroke-width="0.08" textLength="74.19" lengthAdjust="spacingAndGlyphs" text-anchor="end" font-style="italic">Barren Land to Agricultural Land</text>
<text transform="translate(355.00,101.00) rotate(-62.5)" font-size="4.5" fill="#2e2e2e" stroke="#444" stroke-width="0.08" textLength="61.57" lengthAdjust="spacingAndGlyphs" text-anchor="end" font-style="italic">Shrub Land to Built-up area</text>
<text transform="translate(361.50,101.00) rotate(-62.5)" font-size="4.5" fill="#2e2e2e" stroke="#444" stroke-width="0.08" textLength="55.06" lengthAdjust="spacingAndGlyphs" text-anchor="end" font-style="italic">Water Body to Grassland</text>
<text transform="translate(368.00,101.00) rotate(-62.5)" font-size="4.5" fill="#2e2e2e" stroke="#444" stroke-width="0.08" textLength="60.15" lengthAdjust="spacingAndGlyphs" text-anchor="end" font-style="italic">Barren Land to Water Body</text>
<text transform="translate(374.50,101.00) rotate(-62.5)" font-size="4.5" fill="#2e2e2e" stroke="#444" stroke-width="0.08" textLength="52.08" lengthAdjust="spacingAndGlyphs" text-anchor="end" font-style="italic">Shrub Land Unchanged</text>
<text transform="translate(381.00,101.00) rotate(-62.5)" font-size="4.5" fill="#2e2e2e" stroke="#444" stroke-width="0.08" textLength="60.15" lengthAdjust="spacingAndGlyphs" text-anchor="end" font-style="italic">Water Body to Barren Land</text>
<text transform="translate(387.50,101.00) rotate(-62.5)" font-size="4.5" fill="#2e2e2e" stroke="#444" stroke-width="0.08" textLength="55.27" lengthAdjust="spacingAndGlyphs" text-anchor="end" font-style="italic">Grassland to Shrub Land</text>
<text transform="translate(394.00,101.00) rotate(-62.5)" font-size="4.5" fill="#2e2e2e" stroke="#444" stroke-width="0.08" textLength="63.78" lengthAdjust="spacingAndGlyphs" text-anchor="end" font-style="italic">Built-up area to Barren Land</text>
<text transform="translate(400.50,101.00) rotate(-62.5)" font-size="4.5" fill="#2e2e2e" stroke="#444" stroke-width="0.08" textLength="49.20" lengthAdjust="spacingAndGlyphs" text-anchor="end" font-style="italic">Grassland Unchanged</text>
<text transform="translate(407.00,101.00) rotate(-62.5)" font-size="4.5" fill="#2e2e2e" stroke="#444" stroke-width="0.08" textLength="57.48" lengthAdjust="spacingAndGlyphs" text-anchor="end" font-style="italic">Barren Land to Grassland</text>
<text transform="translate(413.50,101.00) rotate(-62.5)" font-size="4.5" fill="#2e2e2e" stroke="#444" stroke-width="0.08" textLength="54.29" lengthAdjust="spacingAndGlyphs" text-anchor="end" font-style="italic">Barren Land Unchanged</text>
<text x="315.10" y="178.20" font-size="7.6" fill="#1a1a1a" stroke="#222" stroke-width="0.06" textLength="38.90" lengthAdjust="spacingAndGlyphs">LULC Class Conversion</text>
<text transform="translate(241.60,60.70) rotate(-90)" font-size="4.9" fill="#505050" textLength="43.70" lengthAdjust="spacingAndGlyphs" text-anchor="middle" font-family="'Liberation Sans', sans-serif">Area in Sq Km</text>
<text x="8.90" y="204.20" font-size="7.2" fill="#111" textLength="9.17" lengthAdjust="spacingAndGlyphs" font-weight="bold">(b)</text>
<clipPath id="clipb"><polygon points="121.2,209.1 125.3,213.3 129.4,218.2 132.7,221.5 133.5,223.2 131.9,225.6 133.5,228.1 138.5,226.5 141.8,225.6 144.3,228.1 147.6,231.4 150.1,234.7 152.5,238 151.7,240.5 149.2,244.6 145.9,248.8 142.6,252.9 140.2,256.2 139.3,259.5 140.2,264.5 141.8,270.2 141.8,274.4 138.5,277.7 133.5,280.1 130.2,282.6 127.8,286.8 126.1,287.6 125.3,284.3 125.3,281 122.8,277.7 118.7,275.2 113.7,273.5 110.4,272.2 107.5,270.6 104.5,269.4 100.5,268.4 96.5,267.6 92,266.6 88.5,265.3 86.3,263.8 87.3,262 92.3,260.3 97.2,257.8 102.2,255.4 107.1,254.2 109.6,256.2 112.9,257.8 116.2,256.2 117.9,252.9 117.9,246.3 119.5,238 120.3,231.4 119.5,224.8 117.9,218.2 118.4,212.4"/></clipPath>
<g clip-path="url(#clipb)">
<rect x="85.3" y="208.1" width="68.2" height="80.50000000000003" fill="#c0b040"/>
<rect x="85.3" y="208.1" width="68.2" height="80.50000000000003" filter="url(#texb)"/>
<polygon points="80,245 110.3,245 110.5,258 109.5,264 104,266.5 99,267 95,268 80,271" fill="#0f7412" opacity="0.95" filter="url(#blur0)"/>
<polygon points="96,267.5 101,267 106,265.5 110,264 113,267 112,275 100,273" fill="#22b022" opacity="0.85" filter="url(#blur0)"/>
<ellipse cx="105.5" cy="265" rx="2.5" ry="1.8" fill="#40b050" opacity="0.8" filter="url(#blur0)"/>
<polygon points="110,258 116,257 122,261 125,267 120,271 112,268" fill="#30c030" opacity="0.55" filter="url(#blur1)"/>
<polygon points="125,234 127.6,234.5 127.8,240 127.2,247 125.2,247 124.8,240" fill="#0c6a12" opacity="0.9" filter="url(#blur0)"/>
<polygon points="116,245 121,245 122,250 121,255 116,256" fill="#108a18" opacity="0.7" filter="url(#blur0)"/>
<polygon points="116,232 121,232 122,244 116,246" fill="#38c038" opacity="0.55" filter="url(#blur1)"/>
<polygon points="128,224 134,222 142,225 140,231.5 131,231" fill="#30c030" opacity="0.65" filter="url(#blur1)"/>
<polygon points="145,230 153,236 152,242 146,243" fill="#30c030" opacity="0.6" filter="url(#blur1)"/>
<polygon points="117,210 121,208 123,214 120,218 117,216" fill="#38c038" opacity="0.5" filter="url(#blur1)"/>
<circle cx="126.4" cy="254.7" r="1" fill="#2020a0"/>
</g>
<path d="M155.7,204.6 L151.1,218.3 L155.7,213.3 Z" fill="#e4e4e4"/>
<path d="M155.7,204.6 L151.1,218.3 L155.7,213.3 L160.29999999999998,218.3 Z" fill="none" stroke="#111" stroke-width="0.6" stroke-linejoin="miter" stroke-miterlimit="10"/>
<rect x="17.70" y="278.2" width="10.60" height="2.9" fill="#000" stroke="#000" stroke-width="0.45"/>
<rect x="28.30" y="278.2" width="10.60" height="2.9" fill="#fff" stroke="#000" stroke-width="0.45"/>
<rect x="38.90" y="278.2" width="10.60" height="2.9" fill="#000" stroke="#000" stroke-width="0.45"/>
<rect x="49.50" y="278.2" width="10.60" height="2.9" fill="#fff" stroke="#000" stroke-width="0.45"/>
<rect x="60.10" y="278.2" width="10.60" height="2.9" fill="#000" stroke="#000" stroke-width="0.45"/>
<text x="17.70" y="275.60" font-size="4.0" fill="#333" textLength="3.20" lengthAdjust="spacingAndGlyphs" text-anchor="middle">50</text>
<text x="28.30" y="275.60" font-size="4.0" fill="#333" textLength="1.60" lengthAdjust="spacingAndGlyphs" text-anchor="middle">0</text>
<text x="38.90" y="275.60" font-size="4.0" fill="#333" textLength="3.20" lengthAdjust="spacingAndGlyphs" text-anchor="middle">50</text>
<text x="49.50" y="275.60" font-size="4.0" fill="#333" textLength="4.80" lengthAdjust="spacingAndGlyphs" text-anchor="middle">100</text>
<text x="60.10" y="275.60" font-size="4.0" fill="#333" textLength="4.80" lengthAdjust="spacingAndGlyphs" text-anchor="middle">150</text>
<text x="68.60" y="275.60" font-size="4.0" fill="#333" textLength="9.69" lengthAdjust="spacingAndGlyphs">200 km</text>
<text x="15.20" y="303.70" font-size="4.3" fill="#333" textLength="33.49" lengthAdjust="spacingAndGlyphs">LULC_Change1997_2004</text>
<text x="22.20" y="308.40" font-size="3.956" fill="#444" textLength="17.23" lengthAdjust="spacingAndGlyphs">Band 1 (Gray)</text>
<rect x="15.20" y="310.85" width="5.0" height="3.7" rx="0.5" fill="#005a00"/>
<text x="22.00" y="314.04" font-size="3.95" fill="#444" textLength="22.93" lengthAdjust="spacingAndGlyphs">Forest Unchanged</text>
<rect x="15.20" y="316.92" width="5.0" height="3.7" rx="0.5" fill="#005a00"/>
<text x="22.00" y="320.11" font-size="3.95" fill="#444" textLength="34.44" lengthAdjust="spacingAndGlyphs">Agricultural Land to Forest</text>
<rect x="15.20" y="322.99" width="5.0" height="3.7" rx="0.5" fill="#ecc400"/>
<text x="22.00" y="326.18" font-size="3.95" fill="#444" textLength="34.27" lengthAdjust="spacingAndGlyphs">Forest to Agricultural Land</text>
<rect x="15.20" y="329.06" width="5.0" height="3.7" rx="0.5" fill="#005a00"/>
<text x="22.00" y="332.25" font-size="3.95" fill="#444" textLength="26.87" lengthAdjust="spacingAndGlyphs">Water Body to Forest</text>
<rect x="15.20" y="335.13" width="5.0" height="3.7" rx="0.5" fill="#ecc400"/>
<text x="22.00" y="338.32" font-size="3.95" fill="#444" textLength="37.67" lengthAdjust="spacingAndGlyphs">Agricultural Land Unchanged</text>
<rect x="15.20" y="341.20" width="5.0" height="3.7" rx="0.5" fill="#0000a8"/>
<text x="22.00" y="344.39" font-size="3.95" fill="#444" textLength="26.81" lengthAdjust="spacingAndGlyphs">Forest to Water Body</text>
<rect x="15.20" y="347.27" width="5.0" height="3.7" rx="0.5" fill="#005a00"/>
<text x="22.00" y="350.46" font-size="3.95" fill="#444" textLength="28.34" lengthAdjust="spacingAndGlyphs">Built-up area to Forest</text>
<rect x="15.20" y="353.34" width="5.0" height="3.7" rx="0.5" fill="#ecc400"/>
<text x="22.00" y="356.53" font-size="3.95" fill="#444" textLength="41.43" lengthAdjust="spacingAndGlyphs">Water Body to Agricultural Land</text>
<rect x="15.20" y="359.41" width="5.0" height="3.7" rx="0.5" fill="#0000a8"/>
<text x="22.00" y="362.60" font-size="3.95" fill="#444" textLength="41.55" lengthAdjust="spacingAndGlyphs">Agricultural Land to Water Body</text>
<rect x="15.20" y="365.48" width="5.0" height="3.7" rx="0.5" fill="#cc7030"/>
<text x="22.00" y="368.67" font-size="3.95" fill="#444" textLength="28.34" lengthAdjust="spacingAndGlyphs">Forest to Built-up area</text>
<rect x="15.20" y="371.55" width="5.0" height="3.7" rx="0.5" fill="#005a00"/>
<text x="22.00" y="374.74" font-size="3.95" fill="#444" textLength="26.60" lengthAdjust="spacingAndGlyphs">Shrub Land to Forest</text>
<rect x="65.20" y="299.75" width="5.0" height="3.7" rx="0.5" fill="#ecc400"/>
<text x="72.00" y="302.94" font-size="3.95" fill="#444" textLength="42.90" lengthAdjust="spacingAndGlyphs">Built-up area to Agricultural Land</text>
<rect x="65.20" y="305.82" width="5.0" height="3.7" rx="0.5" fill="#0000a8"/>
<text x="72.00" y="309.01" font-size="3.95" fill="#444" textLength="30.09" lengthAdjust="spacingAndGlyphs">Water Body Unchanged</text>
<rect x="65.20" y="311.89" width="5.0" height="3.7" rx="0.5" fill="#cc7030"/>
<text x="72.00" y="315.08" font-size="3.95" fill="#444" textLength="43.07" lengthAdjust="spacingAndGlyphs">Agricultural Land to Built-up area</text>
<rect x="65.20" y="317.96" width="5.0" height="3.7" rx="0.5" fill="#1edc1e"/>
<text x="72.00" y="321.15" font-size="3.95" fill="#444" textLength="25.56" lengthAdjust="spacingAndGlyphs">Forest to Shrub land</text>
<rect x="65.20" y="324.03" width="5.0" height="3.7" rx="0.5" fill="#005a00"/>
<text x="72.00" y="327.22" font-size="3.95" fill="#444" textLength="24.42" lengthAdjust="spacingAndGlyphs">Grassland to Forest</text>
<rect x="65.20" y="330.10" width="5.0" height="3.7" rx="0.5" fill="#ecc400"/>
<text x="72.00" y="333.29" font-size="3.95" fill="#444" textLength="41.16" lengthAdjust="spacingAndGlyphs">Shrub Land to Agricultural Land</text>
<rect x="65.20" y="336.17" width="5.0" height="3.7" rx="0.5" fill="#0000a8"/>
<text x="72.00" y="339.36" font-size="3.95" fill="#444" textLength="35.44" lengthAdjust="spacingAndGlyphs">Built-up area to Water Body</text>
<rect x="65.20" y="342.24" width="5.0" height="3.7" rx="0.5" fill="#cc7030"/>
<text x="72.00" y="345.43" font-size="3.95" fill="#444" textLength="35.50" lengthAdjust="spacingAndGlyphs">Water Body to Built-up area</text>
<rect x="65.20" y="348.31" width="5.0" height="3.7" rx="0.5" fill="#1edc1e"/>
<text x="72.00" y="351.50" font-size="3.95" fill="#444" textLength="41.33" lengthAdjust="spacingAndGlyphs">Agricultural Land to Shrub Land</text>
<rect x="65.20" y="354.38" width="5.0" height="3.7" rx="0.5" fill="#6cc6a6"/>
<text x="72.00" y="357.57" font-size="3.95" fill="#444" textLength="24.42" lengthAdjust="spacingAndGlyphs">Forest to Grassland</text>
<rect x="65.20" y="360.45" width="5.0" height="3.7" rx="0.5" fill="#005a00"/>
<text x="72.00" y="363.64" font-size="3.95" fill="#444" textLength="27.64" lengthAdjust="spacingAndGlyphs">Barren Land to Forest</text>
<rect x="65.20" y="366.52" width="5.0" height="3.7" rx="0.5" fill="#ecc400"/>
<text x="72.00" y="369.71" font-size="3.95" fill="#444" textLength="38.98" lengthAdjust="spacingAndGlyphs">Grassland to Agricultural Land</text>
<rect x="65.20" y="372.59" width="5.0" height="3.7" rx="0.5" fill="#0000a8"/>
<text x="72.00" y="375.78" font-size="3.95" fill="#444" textLength="33.70" lengthAdjust="spacingAndGlyphs">Shrub Land to Water Body</text>
<rect x="117.40" y="299.95" width="5.0" height="3.7" rx="0.5" fill="#cc7030"/>
<text x="123.70" y="303.14" font-size="3.95" fill="#444" textLength="31.56" lengthAdjust="spacingAndGlyphs">Built-up area Unchanged</text>
<rect x="117.40" y="306.02" width="5.0" height="3.7" rx="0.5" fill="#1edc1e"/>
<text x="123.70" y="309.21" font-size="3.95" fill="#444" textLength="33.76" lengthAdjust="spacingAndGlyphs">Water Body to Shrub Land</text>
<rect x="117.40" y="312.09" width="5.0" height="3.7" rx="0.5" fill="#6cc6a6"/>
<text x="123.70" y="315.28" font-size="3.95" fill="#444" textLength="39.15" lengthAdjust="spacingAndGlyphs">Agricultural Land to Grassland</text>
<rect x="117.40" y="318.16" width="5.0" height="3.7" rx="0.5" fill="#2c1c16"/>
<text x="123.70" y="321.35" font-size="3.95" fill="#444" textLength="27.64" lengthAdjust="spacingAndGlyphs">Forest to Barren Land</text>
<rect x="117.40" y="324.23" width="5.0" height="3.7" rx="0.5" fill="#ecc400"/>
<text x="123.70" y="327.42" font-size="3.95" fill="#444" textLength="42.20" lengthAdjust="spacingAndGlyphs">Barren Land to Agricultural Land</text>
<rect x="117.40" y="330.30" width="5.0" height="3.7" rx="0.5" fill="#0000a8"/>
<text x="123.70" y="333.49" font-size="3.95" fill="#444" textLength="31.52" lengthAdjust="spacingAndGlyphs">Grassland to Water Body</text>
<rect x="117.40" y="336.37" width="5.0" height="3.7" rx="0.5" fill="#cc7030"/>
<text x="123.70" y="339.56" font-size="3.95" fill="#444" textLength="35.23" lengthAdjust="spacingAndGlyphs">Shrub Land to Built-up area</text>
<rect x="117.40" y="342.44" width="5.0" height="3.7" rx="0.5" fill="#1edc1e"/>
<text x="123.70" y="345.63" font-size="3.95" fill="#444" textLength="35.23" lengthAdjust="spacingAndGlyphs">Built-up area to Shrub Land</text>
<rect x="117.40" y="348.51" width="5.0" height="3.7" rx="0.5" fill="#6cc6a6"/>
<text x="123.70" y="351.70" font-size="3.95" fill="#444" textLength="31.58" lengthAdjust="spacingAndGlyphs">Water Body to Grassland</text>
<rect x="117.40" y="354.58" width="5.0" height="3.7" rx="0.5" fill="#2c1c16"/>
<text x="123.70" y="357.77" font-size="3.95" fill="#444" textLength="42.37" lengthAdjust="spacingAndGlyphs">Agricultural Land to Barren Land</text>
<rect x="117.40" y="360.65" width="5.0" height="3.7" rx="0.5" fill="#0000a8"/>
<text x="123.70" y="363.84" font-size="3.95" fill="#444" textLength="34.74" lengthAdjust="spacingAndGlyphs">Barren Land to Water Body</text>
<rect x="117.40" y="366.72" width="5.0" height="3.7" rx="0.5" fill="#cc7030"/>
<text x="123.70" y="369.91" font-size="3.95" fill="#444" textLength="33.05" lengthAdjust="spacingAndGlyphs">Grassland to Built-up area</text>
<rect x="117.40" y="372.79" width="5.0" height="3.7" rx="0.5" fill="#1edc1e"/>
<text x="123.70" y="375.98" font-size="3.95" fill="#444" textLength="29.82" lengthAdjust="spacingAndGlyphs">Shrub Land Unchanged</text>
<rect x="168.30" y="299.95" width="5.0" height="3.7" rx="0.5" fill="#6cc6a6"/>
<text x="175.20" y="303.14" font-size="3.95" fill="#444" textLength="33.05" lengthAdjust="spacingAndGlyphs">Built-up area to Grassland</text>
<rect x="168.30" y="306.02" width="5.0" height="3.7" rx="0.5" fill="#2c1c16"/>
<text x="175.20" y="309.21" font-size="3.95" fill="#444" textLength="34.80" lengthAdjust="spacingAndGlyphs">Water Body to Barren Land</text>
<rect x="168.30" y="312.09" width="5.0" height="3.7" rx="0.5" fill="#cc7030"/>
<text x="175.20" y="315.28" font-size="3.95" fill="#444" textLength="36.27" lengthAdjust="spacingAndGlyphs">Barren Land to Built-up area</text>
<rect x="168.30" y="318.16" width="5.0" height="3.7" rx="0.5" fill="#1edc1e"/>
<text x="175.20" y="321.35" font-size="3.95" fill="#444" textLength="31.31" lengthAdjust="spacingAndGlyphs">Grassland to Shrub Land</text>
<rect x="168.30" y="324.23" width="5.0" height="3.7" rx="0.5" fill="#6cc6a6"/>
<text x="175.20" y="327.42" font-size="3.95" fill="#444" textLength="31.31" lengthAdjust="spacingAndGlyphs">Shrub Land to Grassland</text>
<rect x="168.30" y="330.30" width="5.0" height="3.7" rx="0.5" fill="#2c1c16"/>
<text x="175.20" y="333.49" font-size="3.95" fill="#444" textLength="36.27" lengthAdjust="spacingAndGlyphs">Built-up area to Barren Land</text>
<rect x="168.30" y="336.37" width="5.0" height="3.7" rx="0.5" fill="#1edc1e"/>
<text x="175.20" y="339.56" font-size="3.95" fill="#444" textLength="34.53" lengthAdjust="spacingAndGlyphs">Barren Land to Shrub Land</text>
<rect x="168.30" y="342.44" width="5.0" height="3.7" rx="0.5" fill="#6cc6a6"/>
<text x="175.20" y="345.63" font-size="3.95" fill="#444" textLength="27.64" lengthAdjust="spacingAndGlyphs">Grassland Unchanged</text>
<rect x="168.30" y="348.51" width="5.0" height="3.7" rx="0.5" fill="#2c1c16"/>
<text x="175.20" y="351.70" font-size="3.95" fill="#444" textLength="34.53" lengthAdjust="spacingAndGlyphs">Shrub Land to Barren Land</text>
<rect x="168.30" y="354.58" width="5.0" height="3.7" rx="0.5" fill="#6cc6a6"/>
<text x="175.20" y="357.77" font-size="3.95" fill="#444" textLength="32.35" lengthAdjust="spacingAndGlyphs">Barren Land to Grassland</text>
<rect x="168.30" y="360.65" width="5.0" height="3.7" rx="0.5" fill="#2c1c16"/>
<text x="175.20" y="363.84" font-size="3.95" fill="#444" textLength="32.35" lengthAdjust="spacingAndGlyphs">Grassland to Barren Land</text>
<rect x="168.30" y="366.72" width="5.0" height="3.7" rx="0.5" fill="#2c1c16"/>
<text x="175.20" y="369.91" font-size="3.95" fill="#444" textLength="30.86" lengthAdjust="spacingAndGlyphs">Barren Land Unchanged</text>
<line x1="230.8" y1="197.3" x2="425.3" y2="197.3" stroke="#b4b4b4" stroke-width="0.9"/>
<line x1="425.3" y1="197.3" x2="425.3" y2="379.3" stroke="#b4b4b4" stroke-width="0.9"/>
<line x1="230.8" y1="379.3" x2="425.3" y2="379.3" stroke="#a6a6a6" stroke-width="1.0"/>
<line x1="230.8" y1="197.3" x2="230.8" y2="379.3" stroke="#ddd" stroke-width="0.5"/>
<text x="308.40" y="208.30" font-size="6.7" fill="#111" stroke="#222" stroke-width="0.2" textLength="38.50" lengthAdjust="spacingAndGlyphs">LULC Change (1997-2004)</text>
<line x1="255.9" y1="220.1" x2="255.9" y2="285.3" stroke="#999" stroke-width="0.5"/>
<line x1="254.6" y1="285.30" x2="255.9" y2="285.30" stroke="#999" stroke-width="0.45"/>
<text x="253.90" y="287.35" font-size="6.2" fill="#4a4a4a" textLength="1.75" lengthAdjust="spacingAndGlyphs" text-anchor="end">0</text>
<line x1="254.6" y1="274.60" x2="255.9" y2="274.60" stroke="#999" stroke-width="0.45"/>
<text x="253.90" y="276.65" font-size="6.2" fill="#4a4a4a" textLength="7.00" lengthAdjust="spacingAndGlyphs" text-anchor="end">2000</text>
<line x1="254.6" y1="263.90" x2="255.9" y2="263.90" stroke="#999" stroke-width="0.45"/>
<text x="253.90" y="265.95" font-size="6.2" fill="#4a4a4a" textLength="7.00" lengthAdjust="spacingAndGlyphs" text-anchor="end">4000</text>
<line x1="254.6" y1="253.20" x2="255.9" y2="253.20" stroke="#999" stroke-width="0.45"/>
<text x="253.90" y="255.25" font-size="6.2" fill="#4a4a4a" textLength="7.00" lengthAdjust="spacingAndGlyphs" text-anchor="end">6000</text>
<line x1="254.6" y1="242.50" x2="255.9" y2="242.50" stroke="#999" stroke-width="0.45"/>
<text x="253.90" y="244.55" font-size="6.2" fill="#4a4a4a" textLength="7.00" lengthAdjust="spacingAndGlyphs" text-anchor="end">8000</text>
<line x1="254.6" y1="231.80" x2="255.9" y2="231.80" stroke="#999" stroke-width="0.45"/>
<text x="253.90" y="233.85" font-size="6.2" fill="#4a4a4a" textLength="8.75" lengthAdjust="spacingAndGlyphs" text-anchor="end">10000</text>
<line x1="254.6" y1="221.10" x2="255.9" y2="221.10" stroke="#999" stroke-width="0.45"/>
<text x="253.90" y="223.15" font-size="6.2" fill="#4a4a4a" textLength="8.75" lengthAdjust="spacingAndGlyphs" text-anchor="end">12000</text>
<line x1="255.9" y1="285.3" x2="415.37" y2="285.3" stroke="#999" stroke-width="0.55"/>
<line x1="260.41" y1="285.3" x2="260.41" y2="286.3" stroke="#999" stroke-width="0.45"/>
<rect x="258.15" y="258.01" width="1.3" height="27.29" fill="#4a7cc0"/>
<line x1="263.64" y1="285.3" x2="263.64" y2="286.3" stroke="#999" stroke-width="0.45"/>
<rect x="261.38" y="283.69" width="1.3" height="1.61" fill="#4a7cc0"/>
<line x1="266.86" y1="285.3" x2="266.86" y2="286.3" stroke="#999" stroke-width="0.45"/>
<rect x="264.60" y="273.53" width="1.3" height="11.77" fill="#4a7cc0"/>
<line x1="270.09" y1="285.3" x2="270.09" y2="286.3" stroke="#999" stroke-width="0.45"/>
<rect x="267.83" y="282.62" width="1.3" height="2.68" fill="#4a7cc0"/>
<line x1="273.31" y1="285.3" x2="273.31" y2="286.3" stroke="#999" stroke-width="0.45"/>
<rect x="271.05" y="224.84" width="1.3" height="60.46" fill="#4a7cc0"/>
<line x1="276.54" y1="285.3" x2="276.54" y2="286.3" stroke="#999" stroke-width="0.45"/>
<rect x="274.28" y="284.40" width="1.3" height="0.90" fill="#4a7cc0"/>
<line x1="279.76" y1="285.3" x2="279.76" y2="286.3" stroke="#999" stroke-width="0.45"/>
<rect x="277.50" y="284.40" width="1.3" height="0.90" fill="#4a7cc0"/>
<line x1="282.99" y1="285.3" x2="282.99" y2="286.3" stroke="#999" stroke-width="0.45"/>
<rect x="280.73" y="284.40" width="1.3" height="0.90" fill="#4a7cc0"/>
<line x1="286.21" y1="285.3" x2="286.21" y2="286.3" stroke="#999" stroke-width="0.45"/>
<rect x="283.95" y="284.40" width="1.3" height="0.90" fill="#4a7cc0"/>
<line x1="289.44" y1="285.3" x2="289.44" y2="286.3" stroke="#999" stroke-width="0.45"/>
<rect x="287.18" y="284.40" width="1.3" height="0.90" fill="#4a7cc0"/>
<line x1="292.66" y1="285.3" x2="292.66" y2="286.3" stroke="#999" stroke-width="0.45"/>
<rect x="290.40" y="283.69" width="1.3" height="1.61" fill="#4a7cc0"/>
<line x1="295.89" y1="285.3" x2="295.89" y2="286.3" stroke="#999" stroke-width="0.45"/>
<rect x="293.63" y="276.74" width="1.3" height="8.56" fill="#4a7cc0"/>
<line x1="299.11" y1="285.3" x2="299.11" y2="286.3" stroke="#999" stroke-width="0.45"/>
<rect x="296.85" y="284.40" width="1.3" height="0.90" fill="#4a7cc0"/>
<line x1="302.34" y1="285.3" x2="302.34" y2="286.3" stroke="#999" stroke-width="0.45"/>
<rect x="300.08" y="278.35" width="1.3" height="6.96" fill="#4a7cc0"/>
<line x1="305.56" y1="285.3" x2="305.56" y2="286.3" stroke="#999" stroke-width="0.45"/>
<rect x="303.30" y="276.20" width="1.3" height="9.10" fill="#4a7cc0"/>
<line x1="308.79" y1="285.3" x2="308.79" y2="286.3" stroke="#999" stroke-width="0.45"/>
<rect x="306.53" y="284.40" width="1.3" height="0.90" fill="#4a7cc0"/>
<line x1="312.01" y1="285.3" x2="312.01" y2="286.3" stroke="#999" stroke-width="0.45"/>
<rect x="309.75" y="277.28" width="1.3" height="8.03" fill="#4a7cc0"/>
<line x1="315.24" y1="285.3" x2="315.24" y2="286.3" stroke="#999" stroke-width="0.45"/>
<rect x="312.98" y="284.40" width="1.3" height="0.90" fill="#4a7cc0"/>
<line x1="318.46" y1="285.3" x2="318.46" y2="286.3" stroke="#999" stroke-width="0.45"/>
<rect x="316.20" y="284.40" width="1.3" height="0.90" fill="#4a7cc0"/>
<line x1="321.69" y1="285.3" x2="321.69" y2="286.3" stroke="#999" stroke-width="0.45"/>
<rect x="319.43" y="273.53" width="1.3" height="11.77" fill="#4a7cc0"/>
<line x1="324.91" y1="285.3" x2="324.91" y2="286.3" stroke="#999" stroke-width="0.45"/>
<rect x="322.65" y="280.75" width="1.3" height="4.55" fill="#4a7cc0"/>
<line x1="328.14" y1="285.3" x2="328.14" y2="286.3" stroke="#999" stroke-width="0.45"/>
<rect x="325.88" y="284.40" width="1.3" height="0.90" fill="#4a7cc0"/>
<line x1="331.36" y1="285.3" x2="331.36" y2="286.3" stroke="#999" stroke-width="0.45"/>
<rect x="329.10" y="278.88" width="1.3" height="6.42" fill="#4a7cc0"/>
<line x1="334.59" y1="285.3" x2="334.59" y2="286.3" stroke="#999" stroke-width="0.45"/>
<rect x="332.33" y="284.40" width="1.3" height="0.90" fill="#4a7cc0"/>
<line x1="337.81" y1="285.3" x2="337.81" y2="286.3" stroke="#999" stroke-width="0.45"/>
<rect x="335.55" y="282.89" width="1.3" height="2.41" fill="#4a7cc0"/>
<line x1="341.04" y1="285.3" x2="341.04" y2="286.3" stroke="#999" stroke-width="0.45"/>
<rect x="338.78" y="284.40" width="1.3" height="0.90" fill="#4a7cc0"/>
<line x1="344.26" y1="285.3" x2="344.26" y2="286.3" stroke="#999" stroke-width="0.45"/>
<rect x="342.00" y="279.42" width="1.3" height="5.89" fill="#4a7cc0"/>
<line x1="347.49" y1="285.3" x2="347.49" y2="286.3" stroke="#999" stroke-width="0.45"/>
<rect x="345.23" y="284.40" width="1.3" height="0.90" fill="#4a7cc0"/>
<line x1="350.71" y1="285.3" x2="350.71" y2="286.3" stroke="#999" stroke-width="0.45"/>
<rect x="348.45" y="277.54" width="1.3" height="7.76" fill="#4a7cc0"/>
<line x1="353.94" y1="285.3" x2="353.94" y2="286.3" stroke="#999" stroke-width="0.45"/>
<rect x="351.68" y="284.40" width="1.3" height="0.90" fill="#4a7cc0"/>
<line x1="357.16" y1="285.3" x2="357.16" y2="286.3" stroke="#999" stroke-width="0.45"/>
<rect x="354.90" y="284.40" width="1.3" height="0.90" fill="#4a7cc0"/>
<line x1="360.39" y1="285.3" x2="360.39" y2="286.3" stroke="#999" stroke-width="0.45"/>
<rect x="358.13" y="284.40" width="1.3" height="0.90" fill="#4a7cc0"/>
<line x1="363.61" y1="285.3" x2="363.61" y2="286.3" stroke="#999" stroke-width="0.45"/>
<rect x="361.35" y="284.40" width="1.3" height="0.90" fill="#4a7cc0"/>
<line x1="366.84" y1="285.3" x2="366.84" y2="286.3" stroke="#999" stroke-width="0.45"/>
<rect x="364.58" y="284.40" width="1.3" height="0.90" fill="#4a7cc0"/>
<line x1="370.06" y1="285.3" x2="370.06" y2="286.3" stroke="#999" stroke-width="0.45"/>
<rect x="367.80" y="284.40" width="1.3" height="0.90" fill="#4a7cc0"/>
<line x1="373.29" y1="285.3" x2="373.29" y2="286.3" stroke="#999" stroke-width="0.45"/>
<rect x="371.03" y="284.40" width="1.3" height="0.90" fill="#4a7cc0"/>
<line x1="376.51" y1="285.3" x2="376.51" y2="286.3" stroke="#999" stroke-width="0.45"/>
<rect x="374.25" y="282.09" width="1.3" height="3.21" fill="#4a7cc0"/>
<line x1="379.74" y1="285.3" x2="379.74" y2="286.3" stroke="#999" stroke-width="0.45"/>
<rect x="377.48" y="284.40" width="1.3" height="0.90" fill="#4a7cc0"/>
<line x1="382.96" y1="285.3" x2="382.96" y2="286.3" stroke="#999" stroke-width="0.45"/>
<rect x="380.70" y="284.40" width="1.3" height="0.90" fill="#4a7cc0"/>
<line x1="386.19" y1="285.3" x2="386.19" y2="286.3" stroke="#999" stroke-width="0.45"/>
<rect x="383.93" y="284.40" width="1.3" height="0.90" fill="#4a7cc0"/>
<line x1="389.41" y1="285.3" x2="389.41" y2="286.3" stroke="#999" stroke-width="0.45"/>
<rect x="387.15" y="284.40" width="1.3" height="0.90" fill="#4a7cc0"/>
<line x1="392.64" y1="285.3" x2="392.64" y2="286.3" stroke="#999" stroke-width="0.45"/>
<rect x="390.38" y="284.40" width="1.3" height="0.90" fill="#4a7cc0"/>
<line x1="395.86" y1="285.3" x2="395.86" y2="286.3" stroke="#999" stroke-width="0.45"/>
<rect x="393.60" y="284.40" width="1.3" height="0.90" fill="#4a7cc0"/>
<line x1="399.09" y1="285.3" x2="399.09" y2="286.3" stroke="#999" stroke-width="0.45"/>
<rect x="396.83" y="283.16" width="1.3" height="2.14" fill="#4a7cc0"/>
<line x1="402.31" y1="285.3" x2="402.31" y2="286.3" stroke="#999" stroke-width="0.45"/>
<rect x="400.05" y="281.29" width="1.3" height="4.01" fill="#4a7cc0"/>
<line x1="405.54" y1="285.3" x2="405.54" y2="286.3" stroke="#999" stroke-width="0.45"/>
<rect x="403.28" y="284.23" width="1.3" height="1.07" fill="#4a7cc0"/>
<line x1="408.76" y1="285.3" x2="408.76" y2="286.3" stroke="#999" stroke-width="0.45"/>
<rect x="406.50" y="284.40" width="1.3" height="0.90" fill="#4a7cc0"/>
<line x1="411.99" y1="285.3" x2="411.99" y2="286.3" stroke="#999" stroke-width="0.45"/>
<rect x="409.73" y="284.40" width="1.3" height="0.90" fill="#4a7cc0"/>
<line x1="415.21" y1="285.3" x2="415.21" y2="286.3" stroke="#999" stroke-width="0.45"/>
<rect x="412.95" y="284.40" width="1.3" height="0.90" fill="#4a7cc0"/>
<text transform="translate(259.30,291.20) rotate(-63)" font-size="4.6" fill="#2e2e2e" stroke="#444" stroke-width="0.08" textLength="41.63" lengthAdjust="spacingAndGlyphs" text-anchor="end" font-style="italic">Forest Unchanged</text>
<text transform="translate(265.75,291.20) rotate(-63)" font-size="4.6" fill="#2e2e2e" stroke="#444" stroke-width="0.08" textLength="62.07" lengthAdjust="spacingAndGlyphs" text-anchor="end" font-style="italic">Forest to Agricultural Land</text>
<text transform="translate(272.20,291.20) rotate(-63)" font-size="4.6" fill="#2e2e2e" stroke="#444" stroke-width="0.08" textLength="67.82" lengthAdjust="spacingAndGlyphs" text-anchor="end" font-style="italic">Agricultural Land Unchanged</text>
<text transform="translate(278.65,291.20) rotate(-63)" font-size="4.6" fill="#2e2e2e" stroke="#444" stroke-width="0.08" textLength="51.38" lengthAdjust="spacingAndGlyphs" text-anchor="end" font-style="italic">Built-up area to Forest</text>
<text transform="translate(285.10,291.20) rotate(-63)" font-size="4.6" fill="#2e2e2e" stroke="#444" stroke-width="0.08" textLength="73.84" lengthAdjust="spacingAndGlyphs" text-anchor="end" font-style="italic">Agricultural Land to Water Body</text>
<text transform="translate(291.55,291.20) rotate(-63)" font-size="4.6" fill="#2e2e2e" stroke="#444" stroke-width="0.08" textLength="47.86" lengthAdjust="spacingAndGlyphs" text-anchor="end" font-style="italic">Shrub Land to Forest</text>
<text transform="translate(298.00,291.20) rotate(-63)" font-size="4.6" fill="#2e2e2e" stroke="#444" stroke-width="0.08" textLength="53.29" lengthAdjust="spacingAndGlyphs" text-anchor="end" font-style="italic">Water Body Unchanged</text>
<text transform="translate(304.45,291.20) rotate(-63)" font-size="4.6" fill="#2e2e2e" stroke="#444" stroke-width="0.08" textLength="46.30" lengthAdjust="spacingAndGlyphs" text-anchor="end" font-style="italic">Forest to Shrub land</text>
<text transform="translate(310.90,291.20) rotate(-63)" font-size="4.6" fill="#2e2e2e" stroke="#444" stroke-width="0.08" textLength="73.95" lengthAdjust="spacingAndGlyphs" text-anchor="end" font-style="italic">Shrub Land to Agricultural Land</text>
<text transform="translate(317.35,291.20) rotate(-63)" font-size="4.6" fill="#2e2e2e" stroke="#444" stroke-width="0.08" textLength="63.04" lengthAdjust="spacingAndGlyphs" text-anchor="end" font-style="italic">Water Body to Built-up area</text>
<text transform="translate(323.80,291.20) rotate(-63)" font-size="4.6" fill="#2e2e2e" stroke="#444" stroke-width="0.08" textLength="44.91" lengthAdjust="spacingAndGlyphs" text-anchor="end" font-style="italic">Forest to Grassland</text>
<text transform="translate(330.25,291.20) rotate(-63)" font-size="4.6" fill="#2e2e2e" stroke="#444" stroke-width="0.08" textLength="71.00" lengthAdjust="spacingAndGlyphs" text-anchor="end" font-style="italic">Grassland to Agricultural Land</text>
<text transform="translate(336.70,291.20) rotate(-63)" font-size="4.6" fill="#2e2e2e" stroke="#444" stroke-width="0.08" textLength="45.57" lengthAdjust="spacingAndGlyphs" text-anchor="end" font-style="italic">Built-up Unchanged</text>
<text transform="translate(343.15,291.20) rotate(-63)" font-size="4.6" fill="#2e2e2e" stroke="#444" stroke-width="0.08" textLength="71.10" lengthAdjust="spacingAndGlyphs" text-anchor="end" font-style="italic">Agricultural Land to Grassland</text>
<text transform="translate(349.60,291.20) rotate(-63)" font-size="4.6" fill="#2e2e2e" stroke="#444" stroke-width="0.08" textLength="76.23" lengthAdjust="spacingAndGlyphs" text-anchor="end" font-style="italic">Barren Land to Agricultural Land</text>
<text transform="translate(356.05,291.20) rotate(-63)" font-size="4.6" fill="#2e2e2e" stroke="#444" stroke-width="0.08" textLength="63.26" lengthAdjust="spacingAndGlyphs" text-anchor="end" font-style="italic">Shrub Land to Built-up area</text>
<text transform="translate(362.50,291.20) rotate(-63)" font-size="4.6" fill="#2e2e2e" stroke="#444" stroke-width="0.08" textLength="56.57" lengthAdjust="spacingAndGlyphs" text-anchor="end" font-style="italic">Water Body to Grassland</text>
<text transform="translate(368.95,291.20) rotate(-63)" font-size="4.6" fill="#2e2e2e" stroke="#444" stroke-width="0.08" textLength="61.81" lengthAdjust="spacingAndGlyphs" text-anchor="end" font-style="italic">Barren Land to Water Body</text>
<text transform="translate(375.40,291.20) rotate(-63)" font-size="4.6" fill="#2e2e2e" stroke="#444" stroke-width="0.08" textLength="53.51" lengthAdjust="spacingAndGlyphs" text-anchor="end" font-style="italic">Shrub Land Unchanged</text>
<text transform="translate(381.85,291.20) rotate(-63)" font-size="4.6" fill="#2e2e2e" stroke="#444" stroke-width="0.08" textLength="61.81" lengthAdjust="spacingAndGlyphs" text-anchor="end" font-style="italic">Water Body to Barren Land</text>
<text transform="translate(388.30,291.20) rotate(-63)" font-size="4.6" fill="#2e2e2e" stroke="#444" stroke-width="0.08" textLength="56.79" lengthAdjust="spacingAndGlyphs" text-anchor="end" font-style="italic">Grassland to Shrub Land</text>
<text transform="translate(394.75,291.20) rotate(-63)" font-size="4.6" fill="#2e2e2e" stroke="#444" stroke-width="0.08" textLength="65.54" lengthAdjust="spacingAndGlyphs" text-anchor="end" font-style="italic">Built-up area to Barren Land</text>
<text transform="translate(401.20,291.20) rotate(-63)" font-size="4.6" fill="#2e2e2e" stroke="#444" stroke-width="0.08" textLength="50.55" lengthAdjust="spacingAndGlyphs" text-anchor="end" font-style="italic">Grassland Unchanged</text>
<text transform="translate(407.65,291.20) rotate(-63)" font-size="4.6" fill="#2e2e2e" stroke="#444" stroke-width="0.08" textLength="59.07" lengthAdjust="spacingAndGlyphs" text-anchor="end" font-style="italic">Barren Land to Grassland</text>
<text transform="translate(414.10,291.20) rotate(-63)" font-size="4.6" fill="#2e2e2e" stroke="#444" stroke-width="0.08" textLength="55.79" lengthAdjust="spacingAndGlyphs" text-anchor="end" font-style="italic">Barren Land Unchanged</text>
<text x="317.00" y="369.10" font-size="6.2" fill="#1a1a1a" stroke="#222" stroke-width="0.3" textLength="36.80" lengthAdjust="spacingAndGlyphs">LULC Class Conversion</text>
<text transform="translate(242.50,252.80) rotate(-90)" font-size="4.4" fill="#333" textLength="42.90" lengthAdjust="spacingAndGlyphs" text-anchor="middle" font-weight="bold">Area in Sq Km</text>
<text x="7.90" y="402.20" font-size="7.2" fill="#111" textLength="8.32" lengthAdjust="spacingAndGlyphs" font-weight="bold">(c)</text>
<clipPath id="clipc"><polygon points="104.4,395.1 109,398.3 112.6,402.8 116.3,407.4 118.1,409.3 116.3,411.1 117.2,412.9 122.7,411.1 127.3,410.2 130.1,412.9 133.7,416.6 137.4,419.4 139.2,422.1 137.4,425.8 133.7,431.3 129.1,435.9 124.6,438.6 122.7,441.4 123.6,445 125.5,448.7 127.3,453.3 126.4,457.9 120.9,459.7 115.4,462.5 110.8,466.1 109,463.4 108,457.9 104.4,455.1 98.9,454.2 93.4,452.4 87.9,449.6 82.3,447.8 76.8,446.9 71.3,446.9 68.6,445 70.4,443.2 75,441.4 80.5,439.5 85.1,437.7 90.6,436.8 95.2,437.7 99.8,436.8 101.6,433.1 102.5,426.7 103.4,419.4 102.5,412 101.6,404.7 102.5,398.3"/></clipPath>
<g clip-path="url(#clipc)">
<rect x="67.6" y="394.1" width="72.6" height="73.0" fill="#c0b040"/>
<rect x="67.6" y="394.1" width="72.6" height="73.0" filter="url(#texc)"/>
<polygon points="60,430 90,436 96,438 100,441 97,445 92,447 86,448 80,447 72,448 60,450" fill="#3f8a2a" opacity="0.75" filter="url(#blur0)"/>
<polygon points="80,437 88,436 94,437.5 92,442 85,443 80,441" fill="#245a1e" opacity="0.55" filter="url(#blur1)"/>
<polygon points="98,410 103,410 107,418 108,428 106,437 100,440 96,438" fill="#4a962c" opacity="0.75" filter="url(#blur1)"/>
<polygon points="107.5,415 113.5,415 114.5,427 113,433 108,432" fill="#4a962c" opacity="0.6" filter="url(#blur1)"/>
<polygon points="128,418 134,416 140,421 136,428 131,434 127,432" fill="#4a9a2e" opacity="0.7" filter="url(#blur1)"/>
<polygon points="112,403 116,406 118,409 114,411 111,408" fill="#4a9a2e" opacity="0.55" filter="url(#blur1)"/>
<polygon points="100,446 108,448 116,450 118,455 110,456 102,452" fill="#5aa032" opacity="0.5" filter="url(#blur1)"/>
<polygon points="109.3,418 111.5,418.6 112.3,425 111.6,430.5 110,430 109.6,425" fill="#1e3c40" opacity="0.85" filter="url(#blur0)"/>
<circle cx="111" cy="436.4" r="0.8" fill="#503070"/>
</g>
<path d="M143.4,394.6 L137.4,410.2 L143.4,404.2 Z" fill="#e4e4e4"/>
<path d="M143.4,394.6 L137.4,410.2 L143.4,404.2 L149.4,410.2 Z" fill="none" stroke="#111" stroke-width="0.85" stroke-linejoin="miter" stroke-miterlimit="10"/>
<rect x="21.10" y="470" width="11.24" height="1.6" fill="#111"/>
<rect x="32.34" y="470.88" width="11.24" height="1.44" fill="#f4f4f4" stroke="#555" stroke-width="0.35"/>
<rect x="43.58" y="470" width="11.24" height="1.6" fill="#111"/>
<rect x="54.82" y="470.88" width="11.24" height="1.44" fill="#f4f4f4" stroke="#555" stroke-width="0.35"/>
<rect x="66.06" y="470" width="11.24" height="1.6" fill="#111"/>
<text x="21.10" y="468.30" font-size="3.7" fill="#444" textLength="2.95" lengthAdjust="spacingAndGlyphs" text-anchor="middle">50</text>
<text x="32.34" y="468.30" font-size="3.7" fill="#444" textLength="1.48" lengthAdjust="spacingAndGlyphs" text-anchor="middle">0</text>
<text x="43.58" y="468.30" font-size="3.7" fill="#444" textLength="2.95" lengthAdjust="spacingAndGlyphs" text-anchor="middle">50</text>
<text x="54.82" y="468.30" font-size="3.7" fill="#444" textLength="4.43" lengthAdjust="spacingAndGlyphs" text-anchor="middle">100</text>
<text x="66.06" y="468.30" font-size="3.7" fill="#444" textLength="4.43" lengthAdjust="spacingAndGlyphs" text-anchor="middle">150</text>
<text x="74.40" y="468.30" font-size="3.7" fill="#444" textLength="8.93" lengthAdjust="spacingAndGlyphs">200 km</text>
<text x="13.10" y="481.30" font-size="3.6" fill="#333" textLength="32.00" lengthAdjust="spacingAndGlyphs">LULC_Change2004_2010</text>
<text x="19.70" y="485.90" font-size="3.3120000000000003" fill="#444" textLength="16.46" lengthAdjust="spacingAndGlyphs">Band 1 (Gray)</text>
<rect x="13.10" y="487.60" width="4.8" height="3.2" rx="0.5" fill="#005a00"/>
<text x="19.70" y="490.36" font-size="3.4" fill="#444" textLength="21.55" lengthAdjust="spacingAndGlyphs">Forest Unchanged</text>
<rect x="13.10" y="492.55" width="4.8" height="3.2" rx="0.5" fill="#005a00"/>
<text x="19.70" y="495.31" font-size="3.4" fill="#444" textLength="32.36" lengthAdjust="spacingAndGlyphs">Agricultural Land to Forest</text>
<rect x="13.10" y="497.50" width="4.8" height="3.2" rx="0.5" fill="#ecc400"/>
<text x="19.70" y="500.26" font-size="3.4" fill="#444" textLength="32.20" lengthAdjust="spacingAndGlyphs">Forest to Agricultural Land</text>
<rect x="13.10" y="502.45" width="4.8" height="3.2" rx="0.5" fill="#005a00"/>
<text x="19.70" y="505.21" font-size="3.4" fill="#444" textLength="25.24" lengthAdjust="spacingAndGlyphs">Water Body to Forest</text>
<rect x="13.10" y="507.40" width="4.8" height="3.2" rx="0.5" fill="#ecc400"/>
<text x="19.70" y="510.16" font-size="3.4" fill="#444" textLength="35.39" lengthAdjust="spacingAndGlyphs">Agricultural Land Unchanged</text>
<rect x="13.10" y="512.35" width="4.8" height="3.2" rx="0.5" fill="#0000a8"/>
<text x="19.70" y="515.11" font-size="3.4" fill="#444" textLength="25.19" lengthAdjust="spacingAndGlyphs">Forest to Water Body</text>
<rect x="13.10" y="517.30" width="4.8" height="3.2" rx="0.5" fill="#005a00"/>
<text x="19.70" y="520.06" font-size="3.4" fill="#444" textLength="26.63" lengthAdjust="spacingAndGlyphs">Built-up area to Forest</text>
<rect x="13.10" y="522.25" width="4.8" height="3.2" rx="0.5" fill="#ecc400"/>
<text x="19.70" y="525.01" font-size="3.4" fill="#444" textLength="38.92" lengthAdjust="spacingAndGlyphs">Water Body to Agricultural Land</text>
<rect x="13.10" y="527.20" width="4.8" height="3.2" rx="0.5" fill="#0000a8"/>
<text x="19.70" y="529.96" font-size="3.4" fill="#444" textLength="39.03" lengthAdjust="spacingAndGlyphs">Agricultural Land to Water Body</text>
<rect x="13.10" y="532.15" width="4.8" height="3.2" rx="0.5" fill="#cc7030"/>
<text x="19.70" y="534.91" font-size="3.4" fill="#444" textLength="26.63" lengthAdjust="spacingAndGlyphs">Forest to Built-up area</text>
<rect x="13.10" y="537.10" width="4.8" height="3.2" rx="0.5" fill="#005a00"/>
<text x="19.70" y="539.86" font-size="3.4" fill="#444" textLength="24.99" lengthAdjust="spacingAndGlyphs">Shrub Land to Forest</text>
<rect x="60.60" y="478.80" width="4.8" height="3.2" rx="0.5" fill="#ecc400"/>
<text x="66.90" y="481.56" font-size="3.4" fill="#444" textLength="40.30" lengthAdjust="spacingAndGlyphs">Built-up area to Agricultural Land</text>
<rect x="60.60" y="483.75" width="4.8" height="3.2" rx="0.5" fill="#0000a8"/>
<text x="66.90" y="486.51" font-size="3.4" fill="#444" textLength="28.27" lengthAdjust="spacingAndGlyphs">Water Body Unchanged</text>
<rect x="60.60" y="488.70" width="4.8" height="3.2" rx="0.5" fill="#cc7030"/>
<text x="66.90" y="491.46" font-size="3.4" fill="#444" textLength="40.47" lengthAdjust="spacingAndGlyphs">Agricultural Land to Built-up area</text>
<rect x="60.60" y="493.65" width="4.8" height="3.2" rx="0.5" fill="#1edc1e"/>
<text x="66.90" y="496.41" font-size="3.4" fill="#444" textLength="24.01" lengthAdjust="spacingAndGlyphs">Forest to Shrub land</text>
<rect x="60.60" y="498.60" width="4.8" height="3.2" rx="0.5" fill="#005a00"/>
<text x="66.90" y="501.36" font-size="3.4" fill="#444" textLength="22.94" lengthAdjust="spacingAndGlyphs">Grassland to Forest</text>
<rect x="60.60" y="503.55" width="4.8" height="3.2" rx="0.5" fill="#ecc400"/>
<text x="66.90" y="506.31" font-size="3.4" fill="#444" textLength="38.67" lengthAdjust="spacingAndGlyphs">Shrub Land to Agricultural Land</text>
<rect x="60.60" y="508.50" width="4.8" height="3.2" rx="0.5" fill="#0000a8"/>
<text x="66.90" y="511.26" font-size="3.4" fill="#444" textLength="33.30" lengthAdjust="spacingAndGlyphs">Built-up area to Water Body</text>
<rect x="60.60" y="513.45" width="4.8" height="3.2" rx="0.5" fill="#cc7030"/>
<text x="66.90" y="516.21" font-size="3.4" fill="#444" textLength="33.35" lengthAdjust="spacingAndGlyphs">Water Body to Built-up area</text>
<rect x="60.60" y="518.40" width="4.8" height="3.2" rx="0.5" fill="#1edc1e"/>
<text x="66.90" y="521.16" font-size="3.4" fill="#444" textLength="38.83" lengthAdjust="spacingAndGlyphs">Agricultural Land to Shrub Land</text>
<rect x="60.60" y="523.35" width="4.8" height="3.2" rx="0.5" fill="#62bc9e"/>
<text x="66.90" y="526.11" font-size="3.4" fill="#444" textLength="22.94" lengthAdjust="spacingAndGlyphs">Forest to Grassland</text>
<rect x="60.60" y="528.30" width="4.8" height="3.2" rx="0.5" fill="#005a00"/>
<text x="66.90" y="531.06" font-size="3.4" fill="#444" textLength="25.97" lengthAdjust="spacingAndGlyphs">Barren Land to Forest</text>
<rect x="60.60" y="533.25" width="4.8" height="3.2" rx="0.5" fill="#ecc400"/>
<text x="66.90" y="536.01" font-size="3.4" fill="#444" textLength="36.62" lengthAdjust="spacingAndGlyphs">Grassland to Agricultural Land</text>
<rect x="60.60" y="538.20" width="4.8" height="3.2" rx="0.5" fill="#0000a8"/>
<text x="66.90" y="540.96" font-size="3.4" fill="#444" textLength="31.66" lengthAdjust="spacingAndGlyphs">Shrub Land to Water Body</text>
<rect x="109.60" y="478.90" width="4.8" height="3.2" rx="0.5" fill="#cc7030"/>
<text x="116.00" y="481.66" font-size="3.4" fill="#444" textLength="29.65" lengthAdjust="spacingAndGlyphs">Built-up area Unchanged</text>
<rect x="109.60" y="483.85" width="4.8" height="3.2" rx="0.5" fill="#1edc1e"/>
<text x="116.00" y="486.61" font-size="3.4" fill="#444" textLength="31.72" lengthAdjust="spacingAndGlyphs">Water Body to Shrub Land</text>
<rect x="109.60" y="488.80" width="4.8" height="3.2" rx="0.5" fill="#62bc9e"/>
<text x="116.00" y="491.56" font-size="3.4" fill="#444" textLength="36.78" lengthAdjust="spacingAndGlyphs">Agricultural Land to Grassland</text>
<rect x="109.60" y="493.75" width="4.8" height="3.2" rx="0.5" fill="#2c1c16"/>
<text x="116.00" y="496.51" font-size="3.4" fill="#444" textLength="25.97" lengthAdjust="spacingAndGlyphs">Forest to Barren Land</text>
<rect x="109.60" y="498.70" width="4.8" height="3.2" rx="0.5" fill="#ecc400"/>
<text x="116.00" y="501.46" font-size="3.4" fill="#444" textLength="39.65" lengthAdjust="spacingAndGlyphs">Barren Land to Agricultural Land</text>
<rect x="109.60" y="503.65" width="4.8" height="3.2" rx="0.5" fill="#0000a8"/>
<text x="116.00" y="506.41" font-size="3.4" fill="#444" textLength="29.61" lengthAdjust="spacingAndGlyphs">Grassland to Water Body</text>
<rect x="109.60" y="508.60" width="4.8" height="3.2" rx="0.5" fill="#cc7030"/>
<text x="116.00" y="511.36" font-size="3.4" fill="#444" textLength="33.10" lengthAdjust="spacingAndGlyphs">Shrub Land to Built-up area</text>
<rect x="109.60" y="513.55" width="4.8" height="3.2" rx="0.5" fill="#1edc1e"/>
<text x="116.00" y="516.31" font-size="3.4" fill="#444" textLength="33.10" lengthAdjust="spacingAndGlyphs">Built-up area to Shrub Land</text>
<rect x="109.60" y="518.50" width="4.8" height="3.2" rx="0.5" fill="#62bc9e"/>
<text x="116.00" y="521.26" font-size="3.4" fill="#444" textLength="29.67" lengthAdjust="spacingAndGlyphs">Water Body to Grassland</text>
<rect x="109.60" y="523.45" width="4.8" height="3.2" rx="0.5" fill="#2c1c16"/>
<text x="116.00" y="526.21" font-size="3.4" fill="#444" textLength="39.81" lengthAdjust="spacingAndGlyphs">Agricultural Land to Barren Land</text>
<rect x="109.60" y="528.40" width="4.8" height="3.2" rx="0.5" fill="#0000a8"/>
<text x="116.00" y="531.16" font-size="3.4" fill="#444" textLength="32.64" lengthAdjust="spacingAndGlyphs">Barren Land to Water Body</text>
<rect x="109.60" y="533.35" width="4.8" height="3.2" rx="0.5" fill="#cc7030"/>
<text x="116.00" y="536.11" font-size="3.4" fill="#444" textLength="31.05" lengthAdjust="spacingAndGlyphs">Grassland to Built-up area</text>
<rect x="109.60" y="538.30" width="4.8" height="3.2" rx="0.5" fill="#1edc1e"/>
<text x="116.00" y="541.06" font-size="3.4" fill="#444" textLength="28.02" lengthAdjust="spacingAndGlyphs">Shrub Land Unchanged</text>
<rect x="157.00" y="478.90" width="4.8" height="3.2" rx="0.5" fill="#62bc9e"/>
<text x="163.30" y="481.66" font-size="3.4" fill="#444" textLength="31.05" lengthAdjust="spacingAndGlyphs">Built-up area to Grassland</text>
<rect x="157.00" y="483.85" width="4.8" height="3.2" rx="0.5" fill="#2c1c16"/>
<text x="163.30" y="486.61" font-size="3.4" fill="#444" textLength="32.69" lengthAdjust="spacingAndGlyphs">Water Body to Barren Land</text>
<rect x="157.00" y="488.80" width="4.8" height="3.2" rx="0.5" fill="#cc7030"/>
<text x="163.30" y="491.56" font-size="3.4" fill="#444" textLength="34.08" lengthAdjust="spacingAndGlyphs">Barren Land to Built-up area</text>
<rect x="157.00" y="493.75" width="4.8" height="3.2" rx="0.5" fill="#1edc1e"/>
<text x="163.30" y="496.51" font-size="3.4" fill="#444" textLength="29.41" lengthAdjust="spacingAndGlyphs">Grassland to Shrub Land</text>
<rect x="157.00" y="498.70" width="4.8" height="3.2" rx="0.5" fill="#62bc9e"/>
<text x="163.30" y="501.46" font-size="3.4" fill="#444" textLength="29.41" lengthAdjust="spacingAndGlyphs">Shrub Land to Grassland</text>
<rect x="157.00" y="503.65" width="4.8" height="3.2" rx="0.5" fill="#2c1c16"/>
<text x="163.30" y="506.41" font-size="3.4" fill="#444" textLength="34.08" lengthAdjust="spacingAndGlyphs">Built-up area to Barren Land</text>
<rect x="157.00" y="508.60" width="4.8" height="3.2" rx="0.5" fill="#1edc1e"/>
<text x="163.30" y="511.36" font-size="3.4" fill="#444" textLength="32.44" lengthAdjust="spacingAndGlyphs">Barren Land to Shrub Land</text>
<rect x="157.00" y="513.55" width="4.8" height="3.2" rx="0.5" fill="#62bc9e"/>
<text x="163.30" y="516.31" font-size="3.4" fill="#444" textLength="25.97" lengthAdjust="spacingAndGlyphs">Grassland Unchanged</text>
<rect x="157.00" y="518.50" width="4.8" height="3.2" rx="0.5" fill="#2c1c16"/>
<text x="163.30" y="521.26" font-size="3.4" fill="#444" textLength="32.44" lengthAdjust="spacingAndGlyphs">Shrub Land to Barren Land</text>
<rect x="157.00" y="523.45" width="4.8" height="3.2" rx="0.5" fill="#62bc9e"/>
<text x="163.30" y="526.21" font-size="3.4" fill="#444" textLength="30.39" lengthAdjust="spacingAndGlyphs">Barren Land to Grassland</text>
<rect x="157.00" y="528.40" width="4.8" height="3.2" rx="0.5" fill="#2c1c16"/>
<text x="163.30" y="531.16" font-size="3.4" fill="#444" textLength="30.39" lengthAdjust="spacingAndGlyphs">Grassland to Barren Land</text>
<rect x="157.00" y="533.35" width="4.8" height="3.2" rx="0.5" fill="#2c1c16"/>
<text x="163.30" y="536.11" font-size="3.4" fill="#444" textLength="29.00" lengthAdjust="spacingAndGlyphs">Barren Land Unchanged</text>
<line x1="225.7" y1="389.4" x2="430.3" y2="389.4" stroke="#b4b4b4" stroke-width="0.9"/>
<line x1="430.3" y1="389.4" x2="430.3" y2="543.4" stroke="#b4b4b4" stroke-width="0.9"/>
<line x1="225.7" y1="543.4" x2="430.3" y2="543.4" stroke="#a6a6a6" stroke-width="1.0"/>
<line x1="225.7" y1="389.4" x2="225.7" y2="543.4" stroke="#ddd" stroke-width="0.5"/>
<text x="313.90" y="398.30" font-size="6.3" fill="#111" stroke="#222" stroke-width="0.12" textLength="49.80" lengthAdjust="spacingAndGlyphs" font-weight="bold">LULC Change (2004- 2010)</text>
<line x1="250.5" y1="408.8" x2="250.5" y2="474.6" stroke="#999" stroke-width="0.5"/>
<line x1="249.2" y1="474.60" x2="250.5" y2="474.60" stroke="#999" stroke-width="0.45"/>
<text x="248.50" y="476.25" font-size="5.0" fill="#333" textLength="1.77" lengthAdjust="spacingAndGlyphs" text-anchor="end">0</text>
<line x1="249.2" y1="463.80" x2="250.5" y2="463.80" stroke="#999" stroke-width="0.45"/>
<text x="248.50" y="465.45" font-size="5.0" fill="#333" textLength="7.10" lengthAdjust="spacingAndGlyphs" text-anchor="end">2000</text>
<line x1="249.2" y1="453.00" x2="250.5" y2="453.00" stroke="#999" stroke-width="0.45"/>
<text x="248.50" y="454.65" font-size="5.0" fill="#333" textLength="7.10" lengthAdjust="spacingAndGlyphs" text-anchor="end">4000</text>
<line x1="249.2" y1="442.20" x2="250.5" y2="442.20" stroke="#999" stroke-width="0.45"/>
<text x="248.50" y="443.85" font-size="5.0" fill="#333" textLength="7.10" lengthAdjust="spacingAndGlyphs" text-anchor="end">6000</text>
<line x1="249.2" y1="431.40" x2="250.5" y2="431.40" stroke="#999" stroke-width="0.45"/>
<text x="248.50" y="433.05" font-size="5.0" fill="#333" textLength="7.10" lengthAdjust="spacingAndGlyphs" text-anchor="end">8000</text>
<line x1="249.2" y1="420.60" x2="250.5" y2="420.60" stroke="#999" stroke-width="0.45"/>
<text x="248.50" y="422.25" font-size="5.0" fill="#333" textLength="8.88" lengthAdjust="spacingAndGlyphs" text-anchor="end">10000</text>
<line x1="249.2" y1="409.80" x2="250.5" y2="409.80" stroke="#999" stroke-width="0.45"/>
<text x="248.50" y="411.45" font-size="5.0" fill="#333" textLength="8.88" lengthAdjust="spacingAndGlyphs" text-anchor="end">12000</text>
<line x1="250.5" y1="474.6" x2="420.41" y2="474.6" stroke="#999" stroke-width="0.55"/>
<line x1="255.12" y1="474.6" x2="255.12" y2="475.6" stroke="#999" stroke-width="0.45"/>
<rect x="252.70" y="455.70" width="1.4" height="18.90" fill="#4a7cc0"/>
<line x1="258.56" y1="474.6" x2="258.56" y2="475.6" stroke="#999" stroke-width="0.45"/>
<rect x="256.14" y="464.34" width="1.4" height="10.26" fill="#4a7cc0"/>
<line x1="262.00" y1="474.6" x2="262.00" y2="475.6" stroke="#999" stroke-width="0.45"/>
<rect x="259.58" y="465.42" width="1.4" height="9.18" fill="#4a7cc0"/>
<line x1="265.44" y1="474.6" x2="265.44" y2="475.6" stroke="#999" stroke-width="0.45"/>
<rect x="263.02" y="473.25" width="1.4" height="1.35" fill="#4a7cc0"/>
<line x1="268.88" y1="474.6" x2="268.88" y2="475.6" stroke="#999" stroke-width="0.45"/>
<rect x="266.46" y="409.26" width="1.4" height="65.34" fill="#4a7cc0"/>
<line x1="272.32" y1="474.6" x2="272.32" y2="475.6" stroke="#999" stroke-width="0.45"/>
<rect x="269.90" y="471.36" width="1.4" height="3.24" fill="#4a7cc0"/>
<line x1="275.76" y1="474.6" x2="275.76" y2="475.6" stroke="#999" stroke-width="0.45"/>
<rect x="273.34" y="473.52" width="1.4" height="1.08" fill="#4a7cc0"/>
<line x1="279.20" y1="474.6" x2="279.20" y2="475.6" stroke="#999" stroke-width="0.45"/>
<rect x="276.78" y="473.52" width="1.4" height="1.08" fill="#4a7cc0"/>
<line x1="282.64" y1="474.6" x2="282.64" y2="475.6" stroke="#999" stroke-width="0.45"/>
<rect x="280.22" y="473.52" width="1.4" height="1.08" fill="#4a7cc0"/>
<line x1="286.08" y1="474.6" x2="286.08" y2="475.6" stroke="#999" stroke-width="0.45"/>
<rect x="283.66" y="473.52" width="1.4" height="1.08" fill="#4a7cc0"/>
<line x1="289.52" y1="474.6" x2="289.52" y2="475.6" stroke="#999" stroke-width="0.45"/>
<rect x="287.10" y="469.20" width="1.4" height="5.40" fill="#4a7cc0"/>
<line x1="292.96" y1="474.6" x2="292.96" y2="475.6" stroke="#999" stroke-width="0.45"/>
<rect x="290.54" y="465.42" width="1.4" height="9.18" fill="#4a7cc0"/>
<line x1="296.40" y1="474.6" x2="296.40" y2="475.6" stroke="#999" stroke-width="0.45"/>
<rect x="293.98" y="473.52" width="1.4" height="1.08" fill="#4a7cc0"/>
<line x1="299.84" y1="474.6" x2="299.84" y2="475.6" stroke="#999" stroke-width="0.45"/>
<rect x="297.42" y="467.85" width="1.4" height="6.75" fill="#4a7cc0"/>
<line x1="303.28" y1="474.6" x2="303.28" y2="475.6" stroke="#999" stroke-width="0.45"/>
<rect x="300.86" y="471.63" width="1.4" height="2.97" fill="#4a7cc0"/>
<line x1="306.72" y1="474.6" x2="306.72" y2="475.6" stroke="#999" stroke-width="0.45"/>
<rect x="304.30" y="472.17" width="1.4" height="2.43" fill="#4a7cc0"/>
<line x1="310.16" y1="474.6" x2="310.16" y2="475.6" stroke="#999" stroke-width="0.45"/>
<rect x="307.74" y="459.75" width="1.4" height="14.85" fill="#4a7cc0"/>
<line x1="313.60" y1="474.6" x2="313.60" y2="475.6" stroke="#999" stroke-width="0.45"/>
<rect x="311.18" y="473.70" width="1.4" height="0.90" fill="#4a7cc0"/>
<line x1="317.04" y1="474.6" x2="317.04" y2="475.6" stroke="#999" stroke-width="0.45"/>
<rect x="314.62" y="473.70" width="1.4" height="0.90" fill="#4a7cc0"/>
<line x1="320.48" y1="474.6" x2="320.48" y2="475.6" stroke="#999" stroke-width="0.45"/>
<rect x="318.06" y="470.55" width="1.4" height="4.05" fill="#4a7cc0"/>
<line x1="323.92" y1="474.6" x2="323.92" y2="475.6" stroke="#999" stroke-width="0.45"/>
<rect x="321.50" y="473.70" width="1.4" height="0.90" fill="#4a7cc0"/>
<line x1="327.36" y1="474.6" x2="327.36" y2="475.6" stroke="#999" stroke-width="0.45"/>
<rect x="324.94" y="473.70" width="1.4" height="0.90" fill="#4a7cc0"/>
<line x1="330.80" y1="474.6" x2="330.80" y2="475.6" stroke="#999" stroke-width="0.45"/>
<rect x="328.38" y="464.34" width="1.4" height="10.26" fill="#4a7cc0"/>
<line x1="334.24" y1="474.6" x2="334.24" y2="475.6" stroke="#999" stroke-width="0.45"/>
<rect x="331.82" y="473.70" width="1.4" height="0.90" fill="#4a7cc0"/>
<line x1="337.68" y1="474.6" x2="337.68" y2="475.6" stroke="#999" stroke-width="0.45"/>
<rect x="335.26" y="473.70" width="1.4" height="0.90" fill="#4a7cc0"/>
<line x1="341.12" y1="474.6" x2="341.12" y2="475.6" stroke="#999" stroke-width="0.45"/>
<rect x="338.70" y="473.70" width="1.4" height="0.90" fill="#4a7cc0"/>
<line x1="344.56" y1="474.6" x2="344.56" y2="475.6" stroke="#999" stroke-width="0.45"/>
<rect x="342.14" y="472.44" width="1.4" height="2.16" fill="#4a7cc0"/>
<line x1="348.00" y1="474.6" x2="348.00" y2="475.6" stroke="#999" stroke-width="0.45"/>
<rect x="345.58" y="473.70" width="1.4" height="0.90" fill="#4a7cc0"/>
<line x1="351.44" y1="474.6" x2="351.44" y2="475.6" stroke="#999" stroke-width="0.45"/>
<rect x="349.02" y="473.70" width="1.4" height="0.90" fill="#4a7cc0"/>
<line x1="354.88" y1="474.6" x2="354.88" y2="475.6" stroke="#999" stroke-width="0.45"/>
<rect x="352.46" y="473.70" width="1.4" height="0.90" fill="#4a7cc0"/>
<line x1="358.32" y1="474.6" x2="358.32" y2="475.6" stroke="#999" stroke-width="0.45"/>
<rect x="355.90" y="472.98" width="1.4" height="1.62" fill="#4a7cc0"/>
<line x1="361.76" y1="474.6" x2="361.76" y2="475.6" stroke="#999" stroke-width="0.45"/>
<rect x="359.34" y="473.70" width="1.4" height="0.90" fill="#4a7cc0"/>
<line x1="365.20" y1="474.6" x2="365.20" y2="475.6" stroke="#999" stroke-width="0.45"/>
<rect x="362.78" y="473.70" width="1.4" height="0.90" fill="#4a7cc0"/>
<line x1="368.64" y1="474.6" x2="368.64" y2="475.6" stroke="#999" stroke-width="0.45"/>
<rect x="366.22" y="468.39" width="1.4" height="6.21" fill="#4a7cc0"/>
<line x1="372.08" y1="474.6" x2="372.08" y2="475.6" stroke="#999" stroke-width="0.45"/>
<rect x="369.66" y="473.70" width="1.4" height="0.90" fill="#4a7cc0"/>
<line x1="375.52" y1="474.6" x2="375.52" y2="475.6" stroke="#999" stroke-width="0.45"/>
<rect x="373.10" y="473.70" width="1.4" height="0.90" fill="#4a7cc0"/>
<line x1="378.96" y1="474.6" x2="378.96" y2="475.6" stroke="#999" stroke-width="0.45"/>
<rect x="376.54" y="472.71" width="1.4" height="1.89" fill="#4a7cc0"/>
<line x1="382.40" y1="474.6" x2="382.40" y2="475.6" stroke="#999" stroke-width="0.45"/>
<rect x="379.98" y="473.70" width="1.4" height="0.90" fill="#4a7cc0"/>
<line x1="385.84" y1="474.6" x2="385.84" y2="475.6" stroke="#999" stroke-width="0.45"/>
<rect x="383.42" y="473.70" width="1.4" height="0.90" fill="#4a7cc0"/>
<line x1="389.28" y1="474.6" x2="389.28" y2="475.6" stroke="#999" stroke-width="0.45"/>
<rect x="386.86" y="473.70" width="1.4" height="0.90" fill="#4a7cc0"/>
<line x1="392.72" y1="474.6" x2="392.72" y2="475.6" stroke="#999" stroke-width="0.45"/>
<rect x="390.30" y="473.70" width="1.4" height="0.90" fill="#4a7cc0"/>
<line x1="396.16" y1="474.6" x2="396.16" y2="475.6" stroke="#999" stroke-width="0.45"/>
<rect x="393.74" y="472.98" width="1.4" height="1.62" fill="#4a7cc0"/>
<line x1="399.60" y1="474.6" x2="399.60" y2="475.6" stroke="#999" stroke-width="0.45"/>
<rect x="397.18" y="473.70" width="1.4" height="0.90" fill="#4a7cc0"/>
<line x1="403.04" y1="474.6" x2="403.04" y2="475.6" stroke="#999" stroke-width="0.45"/>
<rect x="400.62" y="473.70" width="1.4" height="0.90" fill="#4a7cc0"/>
<line x1="406.48" y1="474.6" x2="406.48" y2="475.6" stroke="#999" stroke-width="0.45"/>
<rect x="404.06" y="473.70" width="1.4" height="0.90" fill="#4a7cc0"/>
<line x1="409.92" y1="474.6" x2="409.92" y2="475.6" stroke="#999" stroke-width="0.45"/>
<rect x="407.50" y="472.71" width="1.4" height="1.89" fill="#4a7cc0"/>
<line x1="413.36" y1="474.6" x2="413.36" y2="475.6" stroke="#999" stroke-width="0.45"/>
<rect x="410.94" y="473.70" width="1.4" height="0.90" fill="#4a7cc0"/>
<line x1="416.80" y1="474.6" x2="416.80" y2="475.6" stroke="#999" stroke-width="0.45"/>
<rect x="414.38" y="473.70" width="1.4" height="0.90" fill="#4a7cc0"/>
<line x1="420.24" y1="474.6" x2="420.24" y2="475.6" stroke="#999" stroke-width="0.45"/>
<rect x="417.82" y="473.70" width="1.4" height="0.90" fill="#4a7cc0"/>
<text transform="translate(253.90,479.60) rotate(-56.5)" font-size="4.0" fill="#3a3a3a" textLength="31.97" lengthAdjust="spacingAndGlyphs" text-anchor="end" font-style="italic">Forest Unchanged</text>
<text transform="translate(260.78,479.60) rotate(-56.5)" font-size="4.0" fill="#3a3a3a" textLength="47.66" lengthAdjust="spacingAndGlyphs" text-anchor="end" font-style="italic">Forest to Agricultural Land</text>
<text transform="translate(267.66,479.60) rotate(-56.5)" font-size="4.0" fill="#3a3a3a" textLength="52.08" lengthAdjust="spacingAndGlyphs" text-anchor="end" font-style="italic">Agricultural Land Unchanged</text>
<text transform="translate(274.54,479.60) rotate(-56.5)" font-size="4.0" fill="#3a3a3a" textLength="39.45" lengthAdjust="spacingAndGlyphs" text-anchor="end" font-style="italic">Built-up area to Forest</text>
<text transform="translate(281.42,479.60) rotate(-56.5)" font-size="4.0" fill="#3a3a3a" textLength="56.70" lengthAdjust="spacingAndGlyphs" text-anchor="end" font-style="italic">Agricultural Land to Water Body</text>
<text transform="translate(288.30,479.60) rotate(-56.5)" font-size="4.0" fill="#3a3a3a" textLength="36.75" lengthAdjust="spacingAndGlyphs" text-anchor="end" font-style="italic">Shrub Land to Forest</text>
<text transform="translate(295.18,479.60) rotate(-56.5)" font-size="4.0" fill="#3a3a3a" textLength="40.92" lengthAdjust="spacingAndGlyphs" text-anchor="end" font-style="italic">Water Body Unchanged</text>
<text transform="translate(302.06,479.60) rotate(-56.5)" font-size="4.0" fill="#3a3a3a" textLength="35.56" lengthAdjust="spacingAndGlyphs" text-anchor="end" font-style="italic">Forest to Shrub land</text>
<text transform="translate(308.94,479.60) rotate(-56.5)" font-size="4.0" fill="#3a3a3a" textLength="56.78" lengthAdjust="spacingAndGlyphs" text-anchor="end" font-style="italic">Shrub Land to Agricultural Land</text>
<text transform="translate(315.82,479.60) rotate(-56.5)" font-size="4.0" fill="#3a3a3a" textLength="48.41" lengthAdjust="spacingAndGlyphs" text-anchor="end" font-style="italic">Water Body to Built-up area</text>
<text transform="translate(322.70,479.60) rotate(-56.5)" font-size="4.0" fill="#3a3a3a" textLength="34.48" lengthAdjust="spacingAndGlyphs" text-anchor="end" font-style="italic">Forest to Grassland</text>
<text transform="translate(329.58,479.60) rotate(-56.5)" font-size="4.0" fill="#3a3a3a" textLength="54.51" lengthAdjust="spacingAndGlyphs" text-anchor="end" font-style="italic">Grassland to Agricultural Land</text>
<text transform="translate(336.46,479.60) rotate(-56.5)" font-size="4.0" fill="#3a3a3a" textLength="34.99" lengthAdjust="spacingAndGlyphs" text-anchor="end" font-style="italic">Built-up Unchanged</text>
<text transform="translate(343.34,479.60) rotate(-56.5)" font-size="4.0" fill="#3a3a3a" textLength="54.59" lengthAdjust="spacingAndGlyphs" text-anchor="end" font-style="italic">Agricultural Land to Grassland</text>
<text transform="translate(350.22,479.60) rotate(-56.5)" font-size="4.0" fill="#3a3a3a" textLength="58.53" lengthAdjust="spacingAndGlyphs" text-anchor="end" font-style="italic">Barren Land to Agricultural Land</text>
<text transform="translate(357.10,479.60) rotate(-56.5)" font-size="4.0" fill="#3a3a3a" textLength="48.57" lengthAdjust="spacingAndGlyphs" text-anchor="end" font-style="italic">Shrub Land to Built-up area</text>
<text transform="translate(363.98,479.60) rotate(-56.5)" font-size="4.0" fill="#3a3a3a" textLength="43.44" lengthAdjust="spacingAndGlyphs" text-anchor="end" font-style="italic">Water Body to Grassland</text>
<text transform="translate(370.86,479.60) rotate(-56.5)" font-size="4.0" fill="#3a3a3a" textLength="47.46" lengthAdjust="spacingAndGlyphs" text-anchor="end" font-style="italic">Barren Land to Water Body</text>
<text transform="translate(377.74,479.60) rotate(-56.5)" font-size="4.0" fill="#3a3a3a" textLength="41.09" lengthAdjust="spacingAndGlyphs" text-anchor="end" font-style="italic">Shrub Land Unchanged</text>
<text transform="translate(384.62,479.60) rotate(-56.5)" font-size="4.0" fill="#3a3a3a" textLength="47.46" lengthAdjust="spacingAndGlyphs" text-anchor="end" font-style="italic">Water Body to Barren Land</text>
<text transform="translate(391.50,479.60) rotate(-56.5)" font-size="4.0" fill="#3a3a3a" textLength="43.61" lengthAdjust="spacingAndGlyphs" text-anchor="end" font-style="italic">Grassland to Shrub Land</text>
<text transform="translate(398.38,479.60) rotate(-56.5)" font-size="4.0" fill="#3a3a3a" textLength="50.32" lengthAdjust="spacingAndGlyphs" text-anchor="end" font-style="italic">Built-up area to Barren Land</text>
<text transform="translate(405.26,479.60) rotate(-56.5)" font-size="4.0" fill="#3a3a3a" textLength="38.82" lengthAdjust="spacingAndGlyphs" text-anchor="end" font-style="italic">Grassland Unchanged</text>
<text transform="translate(412.14,479.60) rotate(-56.5)" font-size="4.0" fill="#3a3a3a" textLength="45.35" lengthAdjust="spacingAndGlyphs" text-anchor="end" font-style="italic">Barren Land to Grassland</text>
<text transform="translate(419.02,479.60) rotate(-56.5)" font-size="4.0" fill="#3a3a3a" textLength="42.84" lengthAdjust="spacingAndGlyphs" text-anchor="end" font-style="italic">Barren Land Unchanged</text>
<text x="314.30" y="535.60" font-size="6.3" fill="#1a1a1a" stroke="#222" stroke-width="0.12" textLength="42.60" lengthAdjust="spacingAndGlyphs" font-weight="bold">LULC Class Conversion</text>
<text transform="translate(237.40,441.80) rotate(-90)" font-size="4.6" fill="#111" stroke="#222" stroke-width="0.15" textLength="38.00" lengthAdjust="spacingAndGlyphs" text-anchor="middle" font-weight="bold">Area in Sq Km</text>
</svg></body></html>
